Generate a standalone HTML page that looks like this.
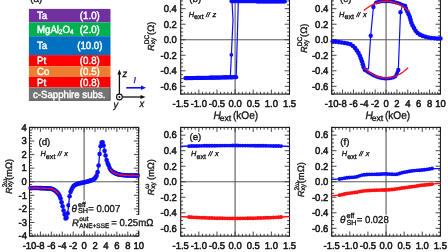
<!DOCTYPE html>
<html><head><meta charset="utf-8"><style>
html,body{margin:0;padding:0;background:#fff;}
svg{display:block;text-rendering:geometricPrecision;}
text{font-family:"Liberation Sans", Arial, sans-serif;fill:#111;stroke:#111;stroke-width:0.32px;}
.w{fill:#fff;stroke:#fff;stroke-width:0.45px;}
.b{fill:#1414ff;stroke:#1414ff;}
.tk{stroke-width:0.5px;}
</style></head><body>
<svg width="448" height="252" viewBox="0 0 448 252"><g fill="#111">
<rect x="28.9" y="8.9" width="81.6" height="13.5" fill="#7030a0"/>
<text transform="matrix(0.93,0,0,1,37,19.15)" font-size="10.4" class="w">Ta</text>
<text transform="matrix(0.93,0,0,1,89.8,19.15)" font-size="10.4" text-anchor="middle" class="w">(1.0)</text>
<rect x="28.9" y="22.4" width="81.6" height="13.8" fill="#00b050"/>
<text transform="matrix(0.93,0,0,1,37,32.8)" font-size="10.4" class="w">MgAl<tspan font-size="6.6" dy="1.1">2</tspan><tspan dy="-1.1">O</tspan><tspan font-size="6.6" dy="1.1">4</tspan></text>
<text transform="matrix(0.93,0,0,1,89.8,32.8)" font-size="10.4" text-anchor="middle" class="w">(2.0)</text>
<rect x="28.9" y="36.2" width="81.6" height="18.9" fill="#0070c0"/>
<text transform="matrix(0.93,0,0,1,37,49.15)" font-size="10.4" class="w">Ta</text>
<text transform="matrix(0.93,0,0,1,89.8,49.15)" font-size="10.4" text-anchor="middle" class="w">(10.0)</text>
<rect x="28.9" y="55.1" width="81.6" height="11.2" fill="#ff0000"/>
<text transform="matrix(0.93,0,0,1,37,64.2)" font-size="10.4" class="w">Pt</text>
<text transform="matrix(0.93,0,0,1,89.8,64.2)" font-size="10.4" text-anchor="middle" class="w">(0.8)</text>
<rect x="28.9" y="66.3" width="81.6" height="10.6" fill="#ed7d31"/>
<text transform="matrix(0.93,0,0,1,37,75.1)" font-size="10.4" class="w">Co</text>
<text transform="matrix(0.93,0,0,1,89.8,75.1)" font-size="10.4" text-anchor="middle" class="w">(0.5)</text>
<rect x="28.9" y="76.9" width="81.6" height="10.6" fill="#ff0000"/>
<text transform="matrix(0.93,0,0,1,37,85.7)" font-size="10.4" class="w">Pt</text>
<text transform="matrix(0.93,0,0,1,89.8,85.7)" font-size="10.4" text-anchor="middle" class="w">(0.8)</text>
<rect x="28.9" y="87.5" width="81.6" height="13.2" fill="#747474"/>
<path d="M28.9 100.3H110.1V87.5" fill="none" stroke="#555" stroke-width="0.8"/>
<text transform="matrix(0.93,0,0,1,69.2,97.5)" font-size="10.4" text-anchor="middle" class="w">c-Sapphire subs.</text>
<text transform="matrix(1.05,0,0,1,30.3,2.2)" font-size="9.3">(a)</text>
<line x1="119.4" y1="97.0" x2="119.4" y2="72.5" stroke="#111" stroke-width="1.3"/>
<path d="M117.4 74.5L119.4 69.5L121.4 74.5Z" fill="#111"/>
<line x1="119.4" y1="97.0" x2="142.5" y2="97.0" stroke="#111" stroke-width="1.3"/>
<path d="M140.5 95.0L145.5 97.0L140.5 99.0Z" fill="#111"/>
<circle cx="119.4" cy="97.0" r="2.9" fill="#fff" stroke="#111" stroke-width="1.1"/>
<circle cx="119.4" cy="97.0" r="1.0" fill="#111"/>
<text transform="matrix(0.92,0,0,1,122.5,77)" font-size="10" font-style="italic">z</text>
<text transform="matrix(0.92,0,0,1,139.5,107)" font-size="10" font-style="italic">x</text>
<text transform="matrix(0.92,0,0,1,113.5,107.5)" font-size="10" font-style="italic">y</text>
<line x1="126.3" y1="87.8" x2="143" y2="87.8" stroke="#0c0cff" stroke-width="1.6"/>
<path d="M141 85.6L146 87.8L141 90Z" fill="#0c0cff"/>
<text transform="matrix(1,0,0,1,133.6,82.6)" font-size="8.6" font-style="italic" class="b">I</text>
<line x1="235.1" y1="-14.6" x2="235.1" y2="94.1" stroke="#5a5a5a" stroke-width="1.1"/>
<line x1="180.7" y1="39.75" x2="289.5" y2="39.75" stroke="#5a5a5a" stroke-width="1.1"/>
<path d="M180.7 94.1v-4.5M180.7 -14.6v4.5M184.33 94.1v-2.3M184.33 -14.6v2.3M187.95 94.1v-2.3M187.95 -14.6v2.3M191.58 94.1v-2.3M191.58 -14.6v2.3M195.21 94.1v-2.3M195.21 -14.6v2.3M198.83 94.1v-4.5M198.83 -14.6v4.5M202.46 94.1v-2.3M202.46 -14.6v2.3M206.09 94.1v-2.3M206.09 -14.6v2.3M209.71 94.1v-2.3M209.71 -14.6v2.3M213.34 94.1v-2.3M213.34 -14.6v2.3M216.97 94.1v-4.5M216.97 -14.6v4.5M220.59 94.1v-2.3M220.59 -14.6v2.3M224.22 94.1v-2.3M224.22 -14.6v2.3M227.85 94.1v-2.3M227.85 -14.6v2.3M231.47 94.1v-2.3M231.47 -14.6v2.3M235.1 94.1v-4.5M235.1 -14.6v4.5M238.73 94.1v-2.3M238.73 -14.6v2.3M242.35 94.1v-2.3M242.35 -14.6v2.3M245.98 94.1v-2.3M245.98 -14.6v2.3M249.61 94.1v-2.3M249.61 -14.6v2.3M253.23 94.1v-4.5M253.23 -14.6v4.5M256.86 94.1v-2.3M256.86 -14.6v2.3M260.49 94.1v-2.3M260.49 -14.6v2.3M264.11 94.1v-2.3M264.11 -14.6v2.3M267.74 94.1v-2.3M267.74 -14.6v2.3M271.37 94.1v-4.5M271.37 -14.6v4.5M274.99 94.1v-2.3M274.99 -14.6v2.3M278.62 94.1v-2.3M278.62 -14.6v2.3M282.25 94.1v-2.3M282.25 -14.6v2.3M285.87 94.1v-2.3M285.87 -14.6v2.3M289.5 94.1v-4.5M289.5 -14.6v4.5M180.7 94.1h2.4M289.5 94.1h-2.4M180.7 90.22h2.4M289.5 90.22h-2.4M180.7 86.34h4.8M289.5 86.34h-4.8M180.7 82.45h2.4M289.5 82.45h-2.4M180.7 78.57h2.4M289.5 78.57h-2.4M180.7 74.69h2.4M289.5 74.69h-2.4M180.7 70.81h4.8M289.5 70.81h-4.8M180.7 66.92h2.4M289.5 66.92h-2.4M180.7 63.04h2.4M289.5 63.04h-2.4M180.7 59.16h2.4M289.5 59.16h-2.4M180.7 55.28h4.8M289.5 55.28h-4.8M180.7 51.4h2.4M289.5 51.4h-2.4M180.7 47.51h2.4M289.5 47.51h-2.4M180.7 43.63h2.4M289.5 43.63h-2.4M180.7 39.75h4.8M289.5 39.75h-4.8M180.7 35.87h2.4M289.5 35.87h-2.4M180.7 31.99h2.4M289.5 31.99h-2.4M180.7 28.1h2.4M289.5 28.1h-2.4M180.7 24.22h4.8M289.5 24.22h-4.8M180.7 20.34h2.4M289.5 20.34h-2.4M180.7 16.46h2.4M289.5 16.46h-2.4M180.7 12.57h2.4M289.5 12.57h-2.4M180.7 8.69h4.8M289.5 8.69h-4.8M180.7 4.81h2.4M289.5 4.81h-2.4M180.7 0.93h2.4M289.5 0.93h-2.4M180.7 -2.95h2.4M289.5 -2.95h-2.4M180.7 -6.84h4.8M289.5 -6.84h-4.8M180.7 -10.72h2.4M289.5 -10.72h-2.4M180.7 -14.6h2.4M289.5 -14.6h-2.4" stroke="#333" stroke-width="0.9" fill="none"/>
<rect x="180.7" y="-14.6" width="108.8" height="108.7" fill="none" stroke="#1a1a1a" stroke-width="1.1"/>
<text transform="matrix(0.96,0,0,1,180.7,106.6)" font-size="9.9" text-anchor="middle" class="tk">-1.5</text>
<text transform="matrix(0.96,0,0,1,198.83,106.6)" font-size="9.9" text-anchor="middle" class="tk">-1.0</text>
<text transform="matrix(0.96,0,0,1,216.97,106.6)" font-size="9.9" text-anchor="middle" class="tk">-0.5</text>
<text transform="matrix(0.96,0,0,1,235.1,106.6)" font-size="9.9" text-anchor="middle" class="tk">0.0</text>
<text transform="matrix(0.96,0,0,1,253.23,106.6)" font-size="9.9" text-anchor="middle" class="tk">0.5</text>
<text transform="matrix(0.96,0,0,1,271.37,106.6)" font-size="9.9" text-anchor="middle" class="tk">1.0</text>
<text transform="matrix(0.96,0,0,1,289.5,106.6)" font-size="9.9" text-anchor="middle" class="tk">1.5</text>
<text transform="matrix(0.96,0,0,1,176.9,89.64)" font-size="9.9" text-anchor="end" class="tk">-0.6</text>
<text transform="matrix(0.96,0,0,1,176.9,74.11)" font-size="9.9" text-anchor="end" class="tk">-0.4</text>
<text transform="matrix(0.96,0,0,1,176.9,58.58)" font-size="9.9" text-anchor="end" class="tk">-0.2</text>
<text transform="matrix(0.96,0,0,1,176.9,43.05)" font-size="9.9" text-anchor="end" class="tk">0.0</text>
<text transform="matrix(0.96,0,0,1,176.9,27.52)" font-size="9.9" text-anchor="end" class="tk">0.2</text>
<text transform="matrix(0.96,0,0,1,176.9,11.99)" font-size="9.9" text-anchor="end" class="tk">0.4</text>
<text transform="matrix(0.96,0,0,1,176.9,-3.54)" font-size="9.9" text-anchor="end" class="tk">0.6</text>
<polyline points="185.41,78.17 186.32,78.16 187.23,78.14 188.13,78.12 189.04,78.1 189.95,78.09 190.85,78.07 191.76,78.05 192.67,78.04 193.57,78.02 194.48,78 195.39,77.99 196.29,77.97 197.2,77.95 198.11,77.93 199.01,77.92 199.92,77.9 200.83,77.88 201.73,77.87 202.64,77.85 203.55,77.83 204.45,77.82 205.36,77.8 206.27,77.78 207.17,77.76 208.08,77.75 208.99,77.73 209.89,77.71 210.8,77.7 211.71,77.68 212.61,77.66 213.52,77.65 214.43,77.63 215.33,77.61 216.24,77.6 217.15,77.58 218.05,77.56 218.96,77.54 219.87,77.53 220.77,77.51 221.68,77.49 222.59,77.48 223.49,77.46 224.4,77.44 225.31,77.43 226.21,77.41 227.12,77.39 228.03,77.37 228.93,77.36 229.84,77.34 230.75,77.32 231.65,77.31 232.56,77.29 233.47,77.27 234.37,77.26 235.28,77.24 236.19,77.22 238.3,1.16 285.15,1.63" fill="none" stroke="#0c0cff" stroke-width="1.2" stroke-linejoin="round" stroke-linecap="round"/>
<polyline points="285.15,1.63 232,1.16 233,20 231.4,54.8 230.3,77.6" fill="none" stroke="#0c0cff" stroke-width="1.2" stroke-linejoin="round" stroke-linecap="round"/>
<circle cx="185.41" cy="78.17" r="2.1" fill="#0c0cff"/>
<circle cx="186.32" cy="78.16" r="2.1" fill="#0c0cff"/>
<circle cx="187.23" cy="78.14" r="2.1" fill="#0c0cff"/>
<circle cx="188.13" cy="78.12" r="2.1" fill="#0c0cff"/>
<circle cx="189.04" cy="78.1" r="2.1" fill="#0c0cff"/>
<circle cx="189.95" cy="78.09" r="2.1" fill="#0c0cff"/>
<circle cx="190.85" cy="78.07" r="2.1" fill="#0c0cff"/>
<circle cx="191.76" cy="78.05" r="2.1" fill="#0c0cff"/>
<circle cx="192.67" cy="78.04" r="2.1" fill="#0c0cff"/>
<circle cx="193.57" cy="78.02" r="2.1" fill="#0c0cff"/>
<circle cx="194.48" cy="78" r="2.1" fill="#0c0cff"/>
<circle cx="195.39" cy="77.99" r="2.1" fill="#0c0cff"/>
<circle cx="196.29" cy="77.97" r="2.1" fill="#0c0cff"/>
<circle cx="197.2" cy="77.95" r="2.1" fill="#0c0cff"/>
<circle cx="198.11" cy="77.93" r="2.1" fill="#0c0cff"/>
<circle cx="199.01" cy="77.92" r="2.1" fill="#0c0cff"/>
<circle cx="199.92" cy="77.9" r="2.1" fill="#0c0cff"/>
<circle cx="200.83" cy="77.88" r="2.1" fill="#0c0cff"/>
<circle cx="201.73" cy="77.87" r="2.1" fill="#0c0cff"/>
<circle cx="202.64" cy="77.85" r="2.1" fill="#0c0cff"/>
<circle cx="203.55" cy="77.83" r="2.1" fill="#0c0cff"/>
<circle cx="204.45" cy="77.82" r="2.1" fill="#0c0cff"/>
<circle cx="205.36" cy="77.8" r="2.1" fill="#0c0cff"/>
<circle cx="206.27" cy="77.78" r="2.1" fill="#0c0cff"/>
<circle cx="207.17" cy="77.76" r="2.1" fill="#0c0cff"/>
<circle cx="208.08" cy="77.75" r="2.1" fill="#0c0cff"/>
<circle cx="208.99" cy="77.73" r="2.1" fill="#0c0cff"/>
<circle cx="209.89" cy="77.71" r="2.1" fill="#0c0cff"/>
<circle cx="210.8" cy="77.7" r="2.1" fill="#0c0cff"/>
<circle cx="211.71" cy="77.68" r="2.1" fill="#0c0cff"/>
<circle cx="212.61" cy="77.66" r="2.1" fill="#0c0cff"/>
<circle cx="213.52" cy="77.65" r="2.1" fill="#0c0cff"/>
<circle cx="214.43" cy="77.63" r="2.1" fill="#0c0cff"/>
<circle cx="215.33" cy="77.61" r="2.1" fill="#0c0cff"/>
<circle cx="216.24" cy="77.6" r="2.1" fill="#0c0cff"/>
<circle cx="217.15" cy="77.58" r="2.1" fill="#0c0cff"/>
<circle cx="218.05" cy="77.56" r="2.1" fill="#0c0cff"/>
<circle cx="218.96" cy="77.54" r="2.1" fill="#0c0cff"/>
<circle cx="219.87" cy="77.53" r="2.1" fill="#0c0cff"/>
<circle cx="220.77" cy="77.51" r="2.1" fill="#0c0cff"/>
<circle cx="221.68" cy="77.49" r="2.1" fill="#0c0cff"/>
<circle cx="222.59" cy="77.48" r="2.1" fill="#0c0cff"/>
<circle cx="223.49" cy="77.46" r="2.1" fill="#0c0cff"/>
<circle cx="224.4" cy="77.44" r="2.1" fill="#0c0cff"/>
<circle cx="225.31" cy="77.43" r="2.1" fill="#0c0cff"/>
<circle cx="226.21" cy="77.41" r="2.1" fill="#0c0cff"/>
<circle cx="227.12" cy="77.39" r="2.1" fill="#0c0cff"/>
<circle cx="228.03" cy="77.37" r="2.1" fill="#0c0cff"/>
<circle cx="228.93" cy="77.36" r="2.1" fill="#0c0cff"/>
<circle cx="229.84" cy="77.34" r="2.1" fill="#0c0cff"/>
<circle cx="230.75" cy="77.32" r="2.1" fill="#0c0cff"/>
<circle cx="231.65" cy="77.31" r="2.1" fill="#0c0cff"/>
<circle cx="232.56" cy="77.29" r="2.1" fill="#0c0cff"/>
<circle cx="233.47" cy="77.27" r="2.1" fill="#0c0cff"/>
<circle cx="234.37" cy="77.26" r="2.1" fill="#0c0cff"/>
<circle cx="235.28" cy="77.24" r="2.1" fill="#0c0cff"/>
<circle cx="236.19" cy="77.22" r="2.1" fill="#0c0cff"/>
<circle cx="231.47" cy="1.16" r="2.0" fill="#0c0cff"/>
<circle cx="232.38" cy="1.17" r="2.0" fill="#0c0cff"/>
<circle cx="233.29" cy="1.18" r="2.0" fill="#0c0cff"/>
<circle cx="234.19" cy="1.18" r="2.0" fill="#0c0cff"/>
<circle cx="235.1" cy="1.19" r="2.0" fill="#0c0cff"/>
<circle cx="236.01" cy="1.2" r="2.0" fill="#0c0cff"/>
<circle cx="236.91" cy="1.21" r="2.0" fill="#0c0cff"/>
<circle cx="237.82" cy="1.22" r="2.0" fill="#0c0cff"/>
<circle cx="238.73" cy="1.22" r="2.0" fill="#0c0cff"/>
<circle cx="239.63" cy="1.23" r="2.0" fill="#0c0cff"/>
<circle cx="240.54" cy="1.24" r="2.0" fill="#0c0cff"/>
<circle cx="241.45" cy="1.25" r="2.0" fill="#0c0cff"/>
<circle cx="242.35" cy="1.25" r="2.0" fill="#0c0cff"/>
<circle cx="243.26" cy="1.26" r="2.0" fill="#0c0cff"/>
<circle cx="244.17" cy="1.27" r="2.0" fill="#0c0cff"/>
<circle cx="245.07" cy="1.28" r="2.0" fill="#0c0cff"/>
<circle cx="245.98" cy="1.29" r="2.0" fill="#0c0cff"/>
<circle cx="246.89" cy="1.29" r="2.0" fill="#0c0cff"/>
<circle cx="247.79" cy="1.3" r="2.0" fill="#0c0cff"/>
<circle cx="248.7" cy="1.31" r="2.0" fill="#0c0cff"/>
<circle cx="249.61" cy="1.32" r="2.0" fill="#0c0cff"/>
<circle cx="250.51" cy="1.32" r="2.0" fill="#0c0cff"/>
<circle cx="251.42" cy="1.33" r="2.0" fill="#0c0cff"/>
<circle cx="252.33" cy="1.34" r="2.0" fill="#0c0cff"/>
<circle cx="253.23" cy="1.35" r="2.0" fill="#0c0cff"/>
<circle cx="254.14" cy="1.36" r="2.0" fill="#0c0cff"/>
<circle cx="255.05" cy="1.36" r="2.0" fill="#0c0cff"/>
<circle cx="255.95" cy="1.37" r="2.0" fill="#0c0cff"/>
<circle cx="256.86" cy="1.38" r="2.0" fill="#0c0cff"/>
<circle cx="257.77" cy="1.39" r="2.0" fill="#0c0cff"/>
<circle cx="258.67" cy="1.39" r="2.0" fill="#0c0cff"/>
<circle cx="259.58" cy="1.4" r="2.0" fill="#0c0cff"/>
<circle cx="260.49" cy="1.41" r="2.0" fill="#0c0cff"/>
<circle cx="261.39" cy="1.42" r="2.0" fill="#0c0cff"/>
<circle cx="262.3" cy="1.43" r="2.0" fill="#0c0cff"/>
<circle cx="263.21" cy="1.43" r="2.0" fill="#0c0cff"/>
<circle cx="264.11" cy="1.44" r="2.0" fill="#0c0cff"/>
<circle cx="265.02" cy="1.45" r="2.0" fill="#0c0cff"/>
<circle cx="265.93" cy="1.46" r="2.0" fill="#0c0cff"/>
<circle cx="266.83" cy="1.46" r="2.0" fill="#0c0cff"/>
<circle cx="267.74" cy="1.47" r="2.0" fill="#0c0cff"/>
<circle cx="268.65" cy="1.48" r="2.0" fill="#0c0cff"/>
<circle cx="269.55" cy="1.49" r="2.0" fill="#0c0cff"/>
<circle cx="270.46" cy="1.5" r="2.0" fill="#0c0cff"/>
<circle cx="271.37" cy="1.5" r="2.0" fill="#0c0cff"/>
<circle cx="272.27" cy="1.51" r="2.0" fill="#0c0cff"/>
<circle cx="273.18" cy="1.52" r="2.0" fill="#0c0cff"/>
<circle cx="274.09" cy="1.53" r="2.0" fill="#0c0cff"/>
<circle cx="274.99" cy="1.53" r="2.0" fill="#0c0cff"/>
<circle cx="275.9" cy="1.54" r="2.0" fill="#0c0cff"/>
<circle cx="276.81" cy="1.55" r="2.0" fill="#0c0cff"/>
<circle cx="277.71" cy="1.56" r="2.0" fill="#0c0cff"/>
<circle cx="278.62" cy="1.57" r="2.0" fill="#0c0cff"/>
<circle cx="279.53" cy="1.57" r="2.0" fill="#0c0cff"/>
<circle cx="280.43" cy="1.58" r="2.0" fill="#0c0cff"/>
<circle cx="281.34" cy="1.59" r="2.0" fill="#0c0cff"/>
<circle cx="282.25" cy="1.6" r="2.0" fill="#0c0cff"/>
<circle cx="283.15" cy="1.6" r="2.0" fill="#0c0cff"/>
<circle cx="284.06" cy="1.61" r="2.0" fill="#0c0cff"/>
<circle cx="284.97" cy="1.62" r="2.0" fill="#0c0cff"/>
<circle cx="231.4" cy="54.8" r="1.9" fill="#0c0cff"/>
<line x1="386.05" y1="-14.6" x2="386.05" y2="94.1" stroke="#5a5a5a" stroke-width="1.1"/>
<line x1="331.7" y1="39.75" x2="440.4" y2="39.75" stroke="#5a5a5a" stroke-width="1.1"/>
<path d="M331.7 94.1v-4.5M331.7 -14.6v4.5M334.42 94.1v-2.3M334.42 -14.6v2.3M337.13 94.1v-2.3M337.13 -14.6v2.3M339.85 94.1v-2.3M339.85 -14.6v2.3M342.57 94.1v-4.5M342.57 -14.6v4.5M345.29 94.1v-2.3M345.29 -14.6v2.3M348 94.1v-2.3M348 -14.6v2.3M350.72 94.1v-2.3M350.72 -14.6v2.3M353.44 94.1v-4.5M353.44 -14.6v4.5M356.16 94.1v-2.3M356.16 -14.6v2.3M358.88 94.1v-2.3M358.88 -14.6v2.3M361.59 94.1v-2.3M361.59 -14.6v2.3M364.31 94.1v-4.5M364.31 -14.6v4.5M367.03 94.1v-2.3M367.03 -14.6v2.3M369.75 94.1v-2.3M369.75 -14.6v2.3M372.46 94.1v-2.3M372.46 -14.6v2.3M375.18 94.1v-4.5M375.18 -14.6v4.5M377.9 94.1v-2.3M377.9 -14.6v2.3M380.62 94.1v-2.3M380.62 -14.6v2.3M383.33 94.1v-2.3M383.33 -14.6v2.3M386.05 94.1v-4.5M386.05 -14.6v4.5M388.77 94.1v-2.3M388.77 -14.6v2.3M391.49 94.1v-2.3M391.49 -14.6v2.3M394.2 94.1v-2.3M394.2 -14.6v2.3M396.92 94.1v-4.5M396.92 -14.6v4.5M399.64 94.1v-2.3M399.64 -14.6v2.3M402.36 94.1v-2.3M402.36 -14.6v2.3M405.07 94.1v-2.3M405.07 -14.6v2.3M407.79 94.1v-4.5M407.79 -14.6v4.5M410.51 94.1v-2.3M410.51 -14.6v2.3M413.22 94.1v-2.3M413.22 -14.6v2.3M415.94 94.1v-2.3M415.94 -14.6v2.3M418.66 94.1v-4.5M418.66 -14.6v4.5M421.38 94.1v-2.3M421.38 -14.6v2.3M424.09 94.1v-2.3M424.09 -14.6v2.3M426.81 94.1v-2.3M426.81 -14.6v2.3M429.53 94.1v-4.5M429.53 -14.6v4.5M432.25 94.1v-2.3M432.25 -14.6v2.3M434.96 94.1v-2.3M434.96 -14.6v2.3M437.68 94.1v-2.3M437.68 -14.6v2.3M440.4 94.1v-4.5M440.4 -14.6v4.5M331.7 94.1h2.4M440.4 94.1h-2.4M331.7 90.22h2.4M440.4 90.22h-2.4M331.7 86.34h4.8M440.4 86.34h-4.8M331.7 82.45h2.4M440.4 82.45h-2.4M331.7 78.57h2.4M440.4 78.57h-2.4M331.7 74.69h2.4M440.4 74.69h-2.4M331.7 70.81h4.8M440.4 70.81h-4.8M331.7 66.92h2.4M440.4 66.92h-2.4M331.7 63.04h2.4M440.4 63.04h-2.4M331.7 59.16h2.4M440.4 59.16h-2.4M331.7 55.28h4.8M440.4 55.28h-4.8M331.7 51.4h2.4M440.4 51.4h-2.4M331.7 47.51h2.4M440.4 47.51h-2.4M331.7 43.63h2.4M440.4 43.63h-2.4M331.7 39.75h4.8M440.4 39.75h-4.8M331.7 35.87h2.4M440.4 35.87h-2.4M331.7 31.99h2.4M440.4 31.99h-2.4M331.7 28.1h2.4M440.4 28.1h-2.4M331.7 24.22h4.8M440.4 24.22h-4.8M331.7 20.34h2.4M440.4 20.34h-2.4M331.7 16.46h2.4M440.4 16.46h-2.4M331.7 12.57h2.4M440.4 12.57h-2.4M331.7 8.69h4.8M440.4 8.69h-4.8M331.7 4.81h2.4M440.4 4.81h-2.4M331.7 0.93h2.4M440.4 0.93h-2.4M331.7 -2.95h2.4M440.4 -2.95h-2.4M331.7 -6.84h4.8M440.4 -6.84h-4.8M331.7 -10.72h2.4M440.4 -10.72h-2.4M331.7 -14.6h2.4M440.4 -14.6h-2.4" stroke="#333" stroke-width="0.9" fill="none"/>
<rect x="331.7" y="-14.6" width="108.7" height="108.7" fill="none" stroke="#1a1a1a" stroke-width="1.1"/>
<text transform="matrix(0.96,0,0,1,331.7,106.6)" font-size="9.9" text-anchor="middle" class="tk">-10</text>
<text transform="matrix(0.96,0,0,1,342.57,106.6)" font-size="9.9" text-anchor="middle" class="tk">-8</text>
<text transform="matrix(0.96,0,0,1,353.44,106.6)" font-size="9.9" text-anchor="middle" class="tk">-6</text>
<text transform="matrix(0.96,0,0,1,364.31,106.6)" font-size="9.9" text-anchor="middle" class="tk">-4</text>
<text transform="matrix(0.96,0,0,1,375.18,106.6)" font-size="9.9" text-anchor="middle" class="tk">-2</text>
<text transform="matrix(0.96,0,0,1,386.05,106.6)" font-size="9.9" text-anchor="middle" class="tk">0</text>
<text transform="matrix(0.96,0,0,1,396.92,106.6)" font-size="9.9" text-anchor="middle" class="tk">2</text>
<text transform="matrix(0.96,0,0,1,407.79,106.6)" font-size="9.9" text-anchor="middle" class="tk">4</text>
<text transform="matrix(0.96,0,0,1,418.66,106.6)" font-size="9.9" text-anchor="middle" class="tk">6</text>
<text transform="matrix(0.96,0,0,1,429.53,106.6)" font-size="9.9" text-anchor="middle" class="tk">8</text>
<text transform="matrix(0.96,0,0,1,440.4,106.6)" font-size="9.9" text-anchor="middle" class="tk">10</text>
<text transform="matrix(0.96,0,0,1,328.3,89.64)" font-size="9.9" text-anchor="end" class="tk">-0.6</text>
<text transform="matrix(0.96,0,0,1,328.3,74.11)" font-size="9.9" text-anchor="end" class="tk">-0.4</text>
<text transform="matrix(0.96,0,0,1,328.3,58.58)" font-size="9.9" text-anchor="end" class="tk">-0.2</text>
<text transform="matrix(0.96,0,0,1,328.3,43.05)" font-size="9.9" text-anchor="end" class="tk">0.0</text>
<text transform="matrix(0.96,0,0,1,328.3,27.52)" font-size="9.9" text-anchor="end" class="tk">0.2</text>
<text transform="matrix(0.96,0,0,1,328.3,11.99)" font-size="9.9" text-anchor="end" class="tk">0.4</text>
<text transform="matrix(0.96,0,0,1,328.3,-3.54)" font-size="9.9" text-anchor="end" class="tk">0.6</text>
<polyline points="440.4,38.5 439.04,38.49 437.68,38.45 436.32,38.42 434.96,38.34 433.61,38.19 432.25,38.04 430.89,37.88 429.53,37.63 428.17,37.39 426.81,37.14 425.45,36.74 424.09,36.32 422.74,35.9 421.38,35.34 420.02,34.66 418.66,33.98 417.3,32.68 415.94,31.29 414.58,28.92 413.22,26.84 411.87,24.01 410.51,19.68 409.15,15.33 407.79,12.48 406.43,9.76 405.07,6.11 403.71,5.43 402.36,4.8 401.81,4.56 400.45,4 399.09,3.49 397.74,3.03 396.38,2.62 395.02,2.26 393.66,1.95 392.3,1.7 390.94,1.49 389.58,1.33 388.22,1.23 386.87,1.17 385.51,1.17 384.15,1.21 382.79,1.31 381.43,1.45 380.07,1.65 378.71,1.9 377.35,2.2 376,2.54 374.64,2.94 373.4,7 370.7,35.7 368.5,68.8 364.31,68.62 362.95,64.8 361.59,60.28 360.23,56.62 358.88,53.75 357.52,51.49 356.16,49.56 354.8,47.8 353.44,46.44 352.08,45.39 350.72,44.48 349.36,43.87 348,43.6 346.65,43.34 345.29,43.13 343.93,42.92 342.57,42.7 341.21,42.49 339.85,42.28 338.49,42.07 337.13,41.87 335.78,41.67 334.42,41.46 333.06,41.26 331.7,41.1" fill="none" stroke="#0c0cff" stroke-width="1.2" stroke-linejoin="round" stroke-linecap="round"/>
<polyline points="331.7,41.1 332.79,41.22 333.87,41.38 334.96,41.54 336.05,41.71 337.13,41.87 338.22,42.03 339.31,42.2 340.4,42.36 341.48,42.53 342.57,42.7 343.66,42.87 344.74,43.05 345.83,43.22 346.92,43.39 348,43.6 349.09,43.82 350.18,44.12 351.27,44.84 352.35,45.57 353.44,46.44 354.53,47.53 355.61,48.83 356.7,50.3 357.79,51.91 358.87,53.75 359.96,55.92 361.05,58.8 362.14,61.91 363.22,65.89 364.31,68.62 365.4,70.16 366.76,71.23 368.11,72.23 369.47,73.15 370.83,74.01 372.19,74.78 373.55,75.49 374.91,76.12 376.27,76.68 377.63,77.17 378.98,77.59 380.34,77.93 381.7,78.2 383.06,78.4 384.42,78.52 385.78,78.57 387.14,78.55 388.5,78.45 389.85,78.29 391.21,78.05 392.57,77.73 393.93,77.35 395.29,76.44 396.65,74.07 398.01,70.23 398.3,70 400.5,12.2 402.2,6.6 403.99,5.56 405.07,6.11 406.16,9.22 407.25,11.39 408.33,13.61 409.42,16.07 410.51,19.68 411.59,23.28 412.68,25.72 413.77,27.65 414.86,29.4 415.94,31.29 417.03,32.4 418.12,33.51 419.2,34.25 420.29,34.8 421.38,35.34 422.46,35.81 423.55,36.15 424.64,36.49 425.73,36.83 426.81,37.14 427.9,37.34 428.99,37.53 430.07,37.73 431.16,37.92 432.25,38.04 433.33,38.16 434.42,38.28 435.51,38.4 436.6,38.43 437.68,38.45 438.77,38.48 439.86,38.5" fill="none" stroke="#0c0cff" stroke-width="1.2" stroke-linejoin="round" stroke-linecap="round"/>
<circle cx="440.4" cy="38.5" r="2.3" fill="#0c0cff"/>
<circle cx="437.4" cy="38.45" r="2.3" fill="#0c0cff"/>
<circle cx="434.41" cy="38.28" r="2.3" fill="#0c0cff"/>
<circle cx="431.43" cy="37.95" r="2.3" fill="#0c0cff"/>
<circle cx="428.47" cy="37.44" r="2.3" fill="#0c0cff"/>
<circle cx="425.55" cy="36.77" r="2.3" fill="#0c0cff"/>
<circle cx="422.69" cy="35.88" r="2.3" fill="#0c0cff"/>
<circle cx="419.97" cy="34.63" r="2.3" fill="#0c0cff"/>
<circle cx="417.55" cy="32.93" r="2.3" fill="#0c0cff"/>
<circle cx="415.58" cy="30.68" r="2.3" fill="#0c0cff"/>
<circle cx="414.06" cy="28.09" r="2.3" fill="#0c0cff"/>
<circle cx="412.57" cy="25.5" r="2.3" fill="#0c0cff"/>
<circle cx="411.4" cy="22.74" r="2.3" fill="#0c0cff"/>
<circle cx="410.55" cy="19.87" r="2.3" fill="#0c0cff"/>
<circle cx="409.76" cy="16.98" r="2.3" fill="#0c0cff"/>
<circle cx="408.62" cy="14.21" r="2.3" fill="#0c0cff"/>
<circle cx="407.31" cy="11.51" r="2.3" fill="#0c0cff"/>
<circle cx="405.96" cy="8.83" r="2.3" fill="#0c0cff"/>
<circle cx="405.1" cy="6.12" r="2.3" fill="#0c0cff"/>
<circle cx="403.99" cy="5.56" r="2.0" fill="#0c0cff"/>
<circle cx="401.99" cy="4.63" r="2.0" fill="#0c0cff"/>
<circle cx="399.95" cy="3.8" r="2.0" fill="#0c0cff"/>
<circle cx="397.88" cy="3.07" r="2.0" fill="#0c0cff"/>
<circle cx="395.77" cy="2.45" r="2.0" fill="#0c0cff"/>
<circle cx="393.63" cy="1.95" r="2.0" fill="#0c0cff"/>
<circle cx="391.46" cy="1.56" r="2.0" fill="#0c0cff"/>
<circle cx="389.28" cy="1.3" r="2.0" fill="#0c0cff"/>
<circle cx="387.08" cy="1.18" r="2.0" fill="#0c0cff"/>
<circle cx="384.88" cy="1.18" r="2.0" fill="#0c0cff"/>
<circle cx="382.68" cy="1.32" r="2.0" fill="#0c0cff"/>
<circle cx="380.5" cy="1.58" r="2.0" fill="#0c0cff"/>
<circle cx="378.34" cy="1.97" r="2.0" fill="#0c0cff"/>
<circle cx="376.2" cy="2.49" r="2.0" fill="#0c0cff"/>
<circle cx="364.85" cy="69.71" r="2.3" fill="#0c0cff"/>
<circle cx="363.54" cy="67.08" r="2.3" fill="#0c0cff"/>
<circle cx="362.79" cy="64.18" r="2.3" fill="#0c0cff"/>
<circle cx="361.94" cy="61.31" r="2.3" fill="#0c0cff"/>
<circle cx="360.93" cy="58.48" r="2.3" fill="#0c0cff"/>
<circle cx="359.84" cy="55.68" r="2.3" fill="#0c0cff"/>
<circle cx="358.5" cy="53" r="2.3" fill="#0c0cff"/>
<circle cx="356.85" cy="50.5" r="2.3" fill="#0c0cff"/>
<circle cx="355.06" cy="48.09" r="2.3" fill="#0c0cff"/>
<circle cx="352.95" cy="45.96" r="2.3" fill="#0c0cff"/>
<circle cx="350.45" cy="44.3" r="2.3" fill="#0c0cff"/>
<circle cx="347.59" cy="43.52" r="2.3" fill="#0c0cff"/>
<circle cx="344.63" cy="43.03" r="2.3" fill="#0c0cff"/>
<circle cx="341.66" cy="42.56" r="2.3" fill="#0c0cff"/>
<circle cx="338.7" cy="42.1" r="2.3" fill="#0c0cff"/>
<circle cx="335.73" cy="41.66" r="2.3" fill="#0c0cff"/>
<circle cx="332.76" cy="41.21" r="2.3" fill="#0c0cff"/>
<circle cx="364.85" cy="69.71" r="1.9" fill="#0c0cff"/>
<circle cx="366.57" cy="71.09" r="1.9" fill="#0c0cff"/>
<circle cx="368.34" cy="72.39" r="1.9" fill="#0c0cff"/>
<circle cx="370.18" cy="73.61" r="1.9" fill="#0c0cff"/>
<circle cx="372.07" cy="74.72" r="1.9" fill="#0c0cff"/>
<circle cx="374.03" cy="75.72" r="1.9" fill="#0c0cff"/>
<circle cx="376.05" cy="76.6" r="1.9" fill="#0c0cff"/>
<circle cx="378.12" cy="77.33" r="1.9" fill="#0c0cff"/>
<circle cx="380.25" cy="77.91" r="1.9" fill="#0c0cff"/>
<circle cx="382.41" cy="78.31" r="1.9" fill="#0c0cff"/>
<circle cx="384.6" cy="78.53" r="1.9" fill="#0c0cff"/>
<circle cx="386.8" cy="78.56" r="1.9" fill="#0c0cff"/>
<circle cx="388.99" cy="78.4" r="1.9" fill="#0c0cff"/>
<circle cx="391.16" cy="78.06" r="1.9" fill="#0c0cff"/>
<circle cx="393.3" cy="77.54" r="1.9" fill="#0c0cff"/>
<circle cx="395.2" cy="76.53" r="1.9" fill="#0c0cff"/>
<circle cx="396.37" cy="74.67" r="1.9" fill="#0c0cff"/>
<circle cx="397.22" cy="72.64" r="1.9" fill="#0c0cff"/>
<circle cx="373.4" cy="7" r="2.2" fill="#0c0cff"/>
<circle cx="370.7" cy="35.7" r="2.2" fill="#0c0cff"/>
<circle cx="398.3" cy="70" r="2.2" fill="#0c0cff"/>
<circle cx="400.5" cy="12.2" r="2.2" fill="#0c0cff"/>
<polyline points="364.31,10.18 365.4,9.31 366.48,8.48 367.57,7.7 368.66,6.96 369.75,6.27 370.83,5.62 371.92,5.02 373.01,4.46 374.09,3.94 375.18,3.48 376.27,3.05 377.35,2.67 378.44,2.33 379.53,2.04 380.62,1.8 381.7,1.6 382.79,1.44 383.88,1.33 384.96,1.26 386.05,1.24 387.14,1.26 388.22,1.33 389.31,1.44 390.4,1.6 391.49,1.8 392.57,2.04 393.66,2.33 394.75,2.67 395.83,3.05 396.92,3.48 398.01,3.94 399.09,4.46 400.18,5.02 401.27,5.62 402.36,6.27 403.44,6.96 404.53,7.7 405.62,8.48 406.7,9.31 407.79,10.18 408.88,11.1" fill="none" stroke="#ff1010" stroke-width="1.3" stroke-linejoin="round" stroke-linecap="round"/>
<polyline points="364.31,68.09 365.4,69.06 366.48,69.98 367.57,70.85 368.66,71.67 369.75,72.44 370.83,73.16 371.92,73.83 373.01,74.45 374.09,75.02 375.18,75.54 376.27,76.02 377.35,76.44 378.44,76.81 379.53,77.13 380.62,77.41 381.7,77.63 382.79,77.8 383.88,77.93 384.96,78 386.05,78.03 387.14,78 388.22,77.93 389.31,77.8 390.4,77.63 391.49,77.41 392.57,77.13 393.66,76.81 394.75,76.44 395.83,76.02 396.92,75.54 398.01,75.02 399.09,74.45 400.18,73.83 401.27,73.16 402.36,72.44 403.44,71.67 404.53,70.85 405.62,69.98 406.7,69.06 407.79,68.09" fill="none" stroke="#ff1010" stroke-width="1.3" stroke-linejoin="round" stroke-linecap="round"/>
<line x1="84.1" y1="127.4" x2="84.1" y2="236.1" stroke="#5a5a5a" stroke-width="1.1"/>
<line x1="29.5" y1="181.75" x2="138.7" y2="181.75" stroke="#5a5a5a" stroke-width="1.1"/>
<path d="M29.5 236.1v-4.5M29.5 127.4v4.5M32.23 236.1v-2.3M32.23 127.4v2.3M34.96 236.1v-2.3M34.96 127.4v2.3M37.69 236.1v-2.3M37.69 127.4v2.3M40.42 236.1v-4.5M40.42 127.4v4.5M43.15 236.1v-2.3M43.15 127.4v2.3M45.88 236.1v-2.3M45.88 127.4v2.3M48.61 236.1v-2.3M48.61 127.4v2.3M51.34 236.1v-4.5M51.34 127.4v4.5M54.07 236.1v-2.3M54.07 127.4v2.3M56.8 236.1v-2.3M56.8 127.4v2.3M59.53 236.1v-2.3M59.53 127.4v2.3M62.26 236.1v-4.5M62.26 127.4v4.5M64.99 236.1v-2.3M64.99 127.4v2.3M67.72 236.1v-2.3M67.72 127.4v2.3M70.45 236.1v-2.3M70.45 127.4v2.3M73.18 236.1v-4.5M73.18 127.4v4.5M75.91 236.1v-2.3M75.91 127.4v2.3M78.64 236.1v-2.3M78.64 127.4v2.3M81.37 236.1v-2.3M81.37 127.4v2.3M84.1 236.1v-4.5M84.1 127.4v4.5M86.83 236.1v-2.3M86.83 127.4v2.3M89.56 236.1v-2.3M89.56 127.4v2.3M92.29 236.1v-2.3M92.29 127.4v2.3M95.02 236.1v-4.5M95.02 127.4v4.5M97.75 236.1v-2.3M97.75 127.4v2.3M100.48 236.1v-2.3M100.48 127.4v2.3M103.21 236.1v-2.3M103.21 127.4v2.3M105.94 236.1v-4.5M105.94 127.4v4.5M108.67 236.1v-2.3M108.67 127.4v2.3M111.4 236.1v-2.3M111.4 127.4v2.3M114.13 236.1v-2.3M114.13 127.4v2.3M116.86 236.1v-4.5M116.86 127.4v4.5M119.59 236.1v-2.3M119.59 127.4v2.3M122.32 236.1v-2.3M122.32 127.4v2.3M125.05 236.1v-2.3M125.05 127.4v2.3M127.78 236.1v-4.5M127.78 127.4v4.5M130.51 236.1v-2.3M130.51 127.4v2.3M133.24 236.1v-2.3M133.24 127.4v2.3M135.97 236.1v-2.3M135.97 127.4v2.3M138.7 236.1v-4.5M138.7 127.4v4.5M29.5 236.1h4.8M138.7 236.1h-4.8M29.5 233.38h2.4M138.7 233.38h-2.4M29.5 230.66h2.4M138.7 230.66h-2.4M29.5 227.95h2.4M138.7 227.95h-2.4M29.5 225.23h2.4M138.7 225.23h-2.4M29.5 222.51h4.8M138.7 222.51h-4.8M29.5 219.79h2.4M138.7 219.79h-2.4M29.5 217.08h2.4M138.7 217.08h-2.4M29.5 214.36h2.4M138.7 214.36h-2.4M29.5 211.64h2.4M138.7 211.64h-2.4M29.5 208.93h4.8M138.7 208.93h-4.8M29.5 206.21h2.4M138.7 206.21h-2.4M29.5 203.49h2.4M138.7 203.49h-2.4M29.5 200.77h2.4M138.7 200.77h-2.4M29.5 198.06h2.4M138.7 198.06h-2.4M29.5 195.34h4.8M138.7 195.34h-4.8M29.5 192.62h2.4M138.7 192.62h-2.4M29.5 189.9h2.4M138.7 189.9h-2.4M29.5 187.19h2.4M138.7 187.19h-2.4M29.5 184.47h2.4M138.7 184.47h-2.4M29.5 181.75h4.8M138.7 181.75h-4.8M29.5 179.03h2.4M138.7 179.03h-2.4M29.5 176.31h2.4M138.7 176.31h-2.4M29.5 173.6h2.4M138.7 173.6h-2.4M29.5 170.88h2.4M138.7 170.88h-2.4M29.5 168.16h4.8M138.7 168.16h-4.8M29.5 165.44h2.4M138.7 165.44h-2.4M29.5 162.73h2.4M138.7 162.73h-2.4M29.5 160.01h2.4M138.7 160.01h-2.4M29.5 157.29h2.4M138.7 157.29h-2.4M29.5 154.57h4.8M138.7 154.57h-4.8M29.5 151.86h2.4M138.7 151.86h-2.4M29.5 149.14h2.4M138.7 149.14h-2.4M29.5 146.42h2.4M138.7 146.42h-2.4M29.5 143.7h2.4M138.7 143.7h-2.4M29.5 140.99h4.8M138.7 140.99h-4.8M29.5 138.27h2.4M138.7 138.27h-2.4M29.5 135.55h2.4M138.7 135.55h-2.4M29.5 132.83h2.4M138.7 132.83h-2.4M29.5 130.12h2.4M138.7 130.12h-2.4M29.5 127.4h4.8M138.7 127.4h-4.8" stroke="#333" stroke-width="0.9" fill="none"/>
<rect x="29.5" y="127.4" width="109.2" height="108.7" fill="none" stroke="#1a1a1a" stroke-width="1.1"/>
<text transform="matrix(0.96,0,0,1,29.5,248.8)" font-size="9.9" text-anchor="middle" class="tk">-10</text>
<text transform="matrix(0.96,0,0,1,40.42,248.8)" font-size="9.9" text-anchor="middle" class="tk">-8</text>
<text transform="matrix(0.96,0,0,1,51.34,248.8)" font-size="9.9" text-anchor="middle" class="tk">-6</text>
<text transform="matrix(0.96,0,0,1,62.26,248.8)" font-size="9.9" text-anchor="middle" class="tk">-4</text>
<text transform="matrix(0.96,0,0,1,73.18,248.8)" font-size="9.9" text-anchor="middle" class="tk">-2</text>
<text transform="matrix(0.96,0,0,1,84.1,248.8)" font-size="9.9" text-anchor="middle" class="tk">0</text>
<text transform="matrix(0.96,0,0,1,95.02,248.8)" font-size="9.9" text-anchor="middle" class="tk">2</text>
<text transform="matrix(0.96,0,0,1,105.94,248.8)" font-size="9.9" text-anchor="middle" class="tk">4</text>
<text transform="matrix(0.96,0,0,1,116.86,248.8)" font-size="9.9" text-anchor="middle" class="tk">6</text>
<text transform="matrix(0.96,0,0,1,127.78,248.8)" font-size="9.9" text-anchor="middle" class="tk">8</text>
<text transform="matrix(0.96,0,0,1,138.7,248.8)" font-size="9.9" text-anchor="middle" class="tk">10</text>
<text transform="matrix(0.96,0,0,1,26.9,239.4)" font-size="9.9" text-anchor="end" class="tk">-4</text>
<text transform="matrix(0.96,0,0,1,26.9,225.81)" font-size="9.9" text-anchor="end" class="tk">-3</text>
<text transform="matrix(0.96,0,0,1,26.9,212.23)" font-size="9.9" text-anchor="end" class="tk">-2</text>
<text transform="matrix(0.96,0,0,1,26.9,198.64)" font-size="9.9" text-anchor="end" class="tk">-1</text>
<text transform="matrix(0.96,0,0,1,26.9,185.05)" font-size="9.9" text-anchor="end" class="tk">0</text>
<text transform="matrix(0.96,0,0,1,26.9,171.46)" font-size="9.9" text-anchor="end" class="tk">1</text>
<text transform="matrix(0.96,0,0,1,26.9,157.88)" font-size="9.9" text-anchor="end" class="tk">2</text>
<text transform="matrix(0.96,0,0,1,26.9,144.29)" font-size="9.9" text-anchor="end" class="tk">3</text>
<text transform="matrix(0.96,0,0,1,26.9,130.7)" font-size="9.9" text-anchor="end" class="tk">4</text>
<line x1="235.1" y1="127.4" x2="235.1" y2="236.1" stroke="#5a5a5a" stroke-width="1.1"/>
<line x1="180.7" y1="181.75" x2="289.5" y2="181.75" stroke="#5a5a5a" stroke-width="1.1"/>
<path d="M180.7 236.1v-4.5M180.7 127.4v4.5M184.33 236.1v-2.3M184.33 127.4v2.3M187.95 236.1v-2.3M187.95 127.4v2.3M191.58 236.1v-2.3M191.58 127.4v2.3M195.21 236.1v-2.3M195.21 127.4v2.3M198.83 236.1v-4.5M198.83 127.4v4.5M202.46 236.1v-2.3M202.46 127.4v2.3M206.09 236.1v-2.3M206.09 127.4v2.3M209.71 236.1v-2.3M209.71 127.4v2.3M213.34 236.1v-2.3M213.34 127.4v2.3M216.97 236.1v-4.5M216.97 127.4v4.5M220.59 236.1v-2.3M220.59 127.4v2.3M224.22 236.1v-2.3M224.22 127.4v2.3M227.85 236.1v-2.3M227.85 127.4v2.3M231.47 236.1v-2.3M231.47 127.4v2.3M235.1 236.1v-4.5M235.1 127.4v4.5M238.73 236.1v-2.3M238.73 127.4v2.3M242.35 236.1v-2.3M242.35 127.4v2.3M245.98 236.1v-2.3M245.98 127.4v2.3M249.61 236.1v-2.3M249.61 127.4v2.3M253.23 236.1v-4.5M253.23 127.4v4.5M256.86 236.1v-2.3M256.86 127.4v2.3M260.49 236.1v-2.3M260.49 127.4v2.3M264.11 236.1v-2.3M264.11 127.4v2.3M267.74 236.1v-2.3M267.74 127.4v2.3M271.37 236.1v-4.5M271.37 127.4v4.5M274.99 236.1v-2.3M274.99 127.4v2.3M278.62 236.1v-2.3M278.62 127.4v2.3M282.25 236.1v-2.3M282.25 127.4v2.3M285.87 236.1v-2.3M285.87 127.4v2.3M289.5 236.1v-4.5M289.5 127.4v4.5M180.7 236.1h2.4M289.5 236.1h-2.4M180.7 232.22h2.4M289.5 232.22h-2.4M180.7 228.34h4.8M289.5 228.34h-4.8M180.7 224.45h2.4M289.5 224.45h-2.4M180.7 220.57h2.4M289.5 220.57h-2.4M180.7 216.69h2.4M289.5 216.69h-2.4M180.7 212.81h4.8M289.5 212.81h-4.8M180.7 208.92h2.4M289.5 208.92h-2.4M180.7 205.04h2.4M289.5 205.04h-2.4M180.7 201.16h2.4M289.5 201.16h-2.4M180.7 197.28h4.8M289.5 197.28h-4.8M180.7 193.4h2.4M289.5 193.4h-2.4M180.7 189.51h2.4M289.5 189.51h-2.4M180.7 185.63h2.4M289.5 185.63h-2.4M180.7 181.75h4.8M289.5 181.75h-4.8M180.7 177.87h2.4M289.5 177.87h-2.4M180.7 173.99h2.4M289.5 173.99h-2.4M180.7 170.1h2.4M289.5 170.1h-2.4M180.7 166.22h4.8M289.5 166.22h-4.8M180.7 162.34h2.4M289.5 162.34h-2.4M180.7 158.46h2.4M289.5 158.46h-2.4M180.7 154.57h2.4M289.5 154.57h-2.4M180.7 150.69h4.8M289.5 150.69h-4.8M180.7 146.81h2.4M289.5 146.81h-2.4M180.7 142.93h2.4M289.5 142.93h-2.4M180.7 139.05h2.4M289.5 139.05h-2.4M180.7 135.16h4.8M289.5 135.16h-4.8M180.7 131.28h2.4M289.5 131.28h-2.4M180.7 127.4h2.4M289.5 127.4h-2.4" stroke="#333" stroke-width="0.9" fill="none"/>
<rect x="180.7" y="127.4" width="108.8" height="108.7" fill="none" stroke="#1a1a1a" stroke-width="1.1"/>
<text transform="matrix(0.96,0,0,1,180.7,248.8)" font-size="9.9" text-anchor="middle" class="tk">-1.5</text>
<text transform="matrix(0.96,0,0,1,198.83,248.8)" font-size="9.9" text-anchor="middle" class="tk">-1.0</text>
<text transform="matrix(0.96,0,0,1,216.97,248.8)" font-size="9.9" text-anchor="middle" class="tk">-0.5</text>
<text transform="matrix(0.96,0,0,1,235.1,248.8)" font-size="9.9" text-anchor="middle" class="tk">0.0</text>
<text transform="matrix(0.96,0,0,1,253.23,248.8)" font-size="9.9" text-anchor="middle" class="tk">0.5</text>
<text transform="matrix(0.96,0,0,1,271.37,248.8)" font-size="9.9" text-anchor="middle" class="tk">1.0</text>
<text transform="matrix(0.96,0,0,1,289.5,248.8)" font-size="9.9" text-anchor="middle" class="tk">1.5</text>
<text transform="matrix(0.96,0,0,1,176.9,231.64)" font-size="9.9" text-anchor="end" class="tk">-0.6</text>
<text transform="matrix(0.96,0,0,1,176.9,216.11)" font-size="9.9" text-anchor="end" class="tk">-0.4</text>
<text transform="matrix(0.96,0,0,1,176.9,200.58)" font-size="9.9" text-anchor="end" class="tk">-0.2</text>
<text transform="matrix(0.96,0,0,1,176.9,185.05)" font-size="9.9" text-anchor="end" class="tk">0.0</text>
<text transform="matrix(0.96,0,0,1,176.9,169.52)" font-size="9.9" text-anchor="end" class="tk">0.2</text>
<text transform="matrix(0.96,0,0,1,176.9,153.99)" font-size="9.9" text-anchor="end" class="tk">0.4</text>
<text transform="matrix(0.96,0,0,1,176.9,138.46)" font-size="9.9" text-anchor="end" class="tk">0.6</text>
<polyline points="180.7,146.34 184.33,146.24 187.95,146.15 191.58,146.07 195.21,145.99 198.83,145.91 202.46,145.85 206.09,145.79 209.71,145.74 213.34,145.69 216.97,145.65 220.59,145.62 224.22,145.6 227.85,145.58 231.47,145.57 235.1,145.57 238.73,145.57 242.35,145.58 245.98,145.6 249.61,145.62 253.23,145.65 256.86,145.69 260.49,145.74 264.11,145.79 267.74,145.85 271.37,145.91 274.99,145.99 278.62,146.07 282.25,146.15 285.87,146.24 289.5,146.34" fill="none" stroke="#0c0cff" stroke-width="1.3" stroke-linejoin="round" stroke-linecap="round"/>
<polyline points="180.7,216.53 184.33,216.77 187.95,217 191.58,217.2 195.21,217.4 198.83,217.57 202.46,217.73 206.09,217.87 209.71,217.99 213.34,218.1 216.97,218.19 220.59,218.26 224.22,218.32 227.85,218.36 231.47,218.39 235.1,218.4 238.73,218.39 242.35,218.36 245.98,218.32 249.61,218.26 253.23,218.19 256.86,218.1 260.49,217.99 264.11,217.87 267.74,217.73 271.37,217.57 274.99,217.4 278.62,217.2 282.25,217 285.87,216.77 289.5,216.53" fill="none" stroke="#ff1010" stroke-width="1.3" stroke-linejoin="round" stroke-linecap="round"/>
<circle cx="189.04" cy="146.13" r="1.95" fill="#0c0cff"/>
<circle cx="191.6" cy="146.06" r="1.95" fill="#0c0cff"/>
<circle cx="194.15" cy="146.01" r="1.95" fill="#0c0cff"/>
<circle cx="196.71" cy="145.96" r="1.95" fill="#0c0cff"/>
<circle cx="199.27" cy="145.91" r="1.95" fill="#0c0cff"/>
<circle cx="201.83" cy="145.86" r="1.95" fill="#0c0cff"/>
<circle cx="204.38" cy="145.82" r="1.95" fill="#0c0cff"/>
<circle cx="206.94" cy="145.78" r="1.95" fill="#0c0cff"/>
<circle cx="209.5" cy="145.74" r="1.95" fill="#0c0cff"/>
<circle cx="212.05" cy="145.71" r="1.95" fill="#0c0cff"/>
<circle cx="214.61" cy="145.68" r="1.95" fill="#0c0cff"/>
<circle cx="217.17" cy="145.65" r="1.95" fill="#0c0cff"/>
<circle cx="219.72" cy="145.63" r="1.95" fill="#0c0cff"/>
<circle cx="222.28" cy="145.61" r="1.95" fill="#0c0cff"/>
<circle cx="224.84" cy="145.6" r="1.95" fill="#0c0cff"/>
<circle cx="227.39" cy="145.58" r="1.95" fill="#0c0cff"/>
<circle cx="229.95" cy="145.58" r="1.95" fill="#0c0cff"/>
<circle cx="232.51" cy="145.57" r="1.95" fill="#0c0cff"/>
<circle cx="235.06" cy="145.57" r="1.95" fill="#0c0cff"/>
<circle cx="237.62" cy="145.57" r="1.95" fill="#0c0cff"/>
<circle cx="240.18" cy="145.58" r="1.95" fill="#0c0cff"/>
<circle cx="242.73" cy="145.58" r="1.95" fill="#0c0cff"/>
<circle cx="245.29" cy="145.6" r="1.95" fill="#0c0cff"/>
<circle cx="247.85" cy="145.61" r="1.95" fill="#0c0cff"/>
<circle cx="250.4" cy="145.63" r="1.95" fill="#0c0cff"/>
<circle cx="252.96" cy="145.65" r="1.95" fill="#0c0cff"/>
<circle cx="255.52" cy="145.68" r="1.95" fill="#0c0cff"/>
<circle cx="258.07" cy="145.71" r="1.95" fill="#0c0cff"/>
<circle cx="260.63" cy="145.74" r="1.95" fill="#0c0cff"/>
<circle cx="263.19" cy="145.78" r="1.95" fill="#0c0cff"/>
<circle cx="265.75" cy="145.81" r="1.95" fill="#0c0cff"/>
<circle cx="268.3" cy="145.86" r="1.95" fill="#0c0cff"/>
<circle cx="270.86" cy="145.9" r="1.95" fill="#0c0cff"/>
<circle cx="273.42" cy="145.95" r="1.95" fill="#0c0cff"/>
<circle cx="275.97" cy="146.01" r="1.95" fill="#0c0cff"/>
<circle cx="278.53" cy="146.06" r="1.95" fill="#0c0cff"/>
<circle cx="281.09" cy="146.12" r="1.95" fill="#0c0cff"/>
<circle cx="189.04" cy="217.06" r="1.95" fill="#ff1010"/>
<circle cx="191.6" cy="217.21" r="1.95" fill="#ff1010"/>
<circle cx="194.15" cy="217.34" r="1.95" fill="#ff1010"/>
<circle cx="196.71" cy="217.47" r="1.95" fill="#ff1010"/>
<circle cx="199.27" cy="217.59" r="1.95" fill="#ff1010"/>
<circle cx="201.83" cy="217.7" r="1.95" fill="#ff1010"/>
<circle cx="204.38" cy="217.8" r="1.95" fill="#ff1010"/>
<circle cx="206.94" cy="217.9" r="1.95" fill="#ff1010"/>
<circle cx="209.5" cy="217.98" r="1.95" fill="#ff1010"/>
<circle cx="212.05" cy="218.06" r="1.95" fill="#ff1010"/>
<circle cx="214.61" cy="218.13" r="1.95" fill="#ff1010"/>
<circle cx="217.17" cy="218.19" r="1.95" fill="#ff1010"/>
<circle cx="219.72" cy="218.25" r="1.95" fill="#ff1010"/>
<circle cx="222.28" cy="218.29" r="1.95" fill="#ff1010"/>
<circle cx="224.84" cy="218.33" r="1.95" fill="#ff1010"/>
<circle cx="227.39" cy="218.36" r="1.95" fill="#ff1010"/>
<circle cx="229.95" cy="218.38" r="1.95" fill="#ff1010"/>
<circle cx="232.51" cy="218.39" r="1.95" fill="#ff1010"/>
<circle cx="235.06" cy="218.4" r="1.95" fill="#ff1010"/>
<circle cx="237.62" cy="218.39" r="1.95" fill="#ff1010"/>
<circle cx="240.18" cy="218.38" r="1.95" fill="#ff1010"/>
<circle cx="242.73" cy="218.36" r="1.95" fill="#ff1010"/>
<circle cx="245.29" cy="218.33" r="1.95" fill="#ff1010"/>
<circle cx="247.85" cy="218.3" r="1.95" fill="#ff1010"/>
<circle cx="250.4" cy="218.25" r="1.95" fill="#ff1010"/>
<circle cx="252.96" cy="218.2" r="1.95" fill="#ff1010"/>
<circle cx="255.52" cy="218.13" r="1.95" fill="#ff1010"/>
<circle cx="258.07" cy="218.07" r="1.95" fill="#ff1010"/>
<circle cx="260.63" cy="217.99" r="1.95" fill="#ff1010"/>
<circle cx="263.19" cy="217.9" r="1.95" fill="#ff1010"/>
<circle cx="265.75" cy="217.81" r="1.95" fill="#ff1010"/>
<circle cx="268.3" cy="217.7" r="1.95" fill="#ff1010"/>
<circle cx="270.86" cy="217.59" r="1.95" fill="#ff1010"/>
<circle cx="273.42" cy="217.47" r="1.95" fill="#ff1010"/>
<circle cx="275.97" cy="217.35" r="1.95" fill="#ff1010"/>
<circle cx="278.53" cy="217.21" r="1.95" fill="#ff1010"/>
<circle cx="281.09" cy="217.07" r="1.95" fill="#ff1010"/>
<line x1="386.05" y1="127.4" x2="386.05" y2="236.1" stroke="#5a5a5a" stroke-width="1.1"/>
<line x1="331.7" y1="181.75" x2="440.4" y2="181.75" stroke="#5a5a5a" stroke-width="1.1"/>
<path d="M331.7 236.1v-4.5M331.7 127.4v4.5M335.32 236.1v-2.3M335.32 127.4v2.3M338.95 236.1v-2.3M338.95 127.4v2.3M342.57 236.1v-2.3M342.57 127.4v2.3M346.19 236.1v-2.3M346.19 127.4v2.3M349.82 236.1v-4.5M349.82 127.4v4.5M353.44 236.1v-2.3M353.44 127.4v2.3M357.06 236.1v-2.3M357.06 127.4v2.3M360.69 236.1v-2.3M360.69 127.4v2.3M364.31 236.1v-2.3M364.31 127.4v2.3M367.93 236.1v-4.5M367.93 127.4v4.5M371.56 236.1v-2.3M371.56 127.4v2.3M375.18 236.1v-2.3M375.18 127.4v2.3M378.8 236.1v-2.3M378.8 127.4v2.3M382.43 236.1v-2.3M382.43 127.4v2.3M386.05 236.1v-4.5M386.05 127.4v4.5M389.67 236.1v-2.3M389.67 127.4v2.3M393.3 236.1v-2.3M393.3 127.4v2.3M396.92 236.1v-2.3M396.92 127.4v2.3M400.54 236.1v-2.3M400.54 127.4v2.3M404.17 236.1v-4.5M404.17 127.4v4.5M407.79 236.1v-2.3M407.79 127.4v2.3M411.41 236.1v-2.3M411.41 127.4v2.3M415.04 236.1v-2.3M415.04 127.4v2.3M418.66 236.1v-2.3M418.66 127.4v2.3M422.28 236.1v-4.5M422.28 127.4v4.5M425.91 236.1v-2.3M425.91 127.4v2.3M429.53 236.1v-2.3M429.53 127.4v2.3M433.15 236.1v-2.3M433.15 127.4v2.3M436.78 236.1v-2.3M436.78 127.4v2.3M440.4 236.1v-4.5M440.4 127.4v4.5M331.7 236.1h2.4M440.4 236.1h-2.4M331.7 232.22h2.4M440.4 232.22h-2.4M331.7 228.34h4.8M440.4 228.34h-4.8M331.7 224.45h2.4M440.4 224.45h-2.4M331.7 220.57h2.4M440.4 220.57h-2.4M331.7 216.69h2.4M440.4 216.69h-2.4M331.7 212.81h4.8M440.4 212.81h-4.8M331.7 208.92h2.4M440.4 208.92h-2.4M331.7 205.04h2.4M440.4 205.04h-2.4M331.7 201.16h2.4M440.4 201.16h-2.4M331.7 197.28h4.8M440.4 197.28h-4.8M331.7 193.4h2.4M440.4 193.4h-2.4M331.7 189.51h2.4M440.4 189.51h-2.4M331.7 185.63h2.4M440.4 185.63h-2.4M331.7 181.75h4.8M440.4 181.75h-4.8M331.7 177.87h2.4M440.4 177.87h-2.4M331.7 173.99h2.4M440.4 173.99h-2.4M331.7 170.1h2.4M440.4 170.1h-2.4M331.7 166.22h4.8M440.4 166.22h-4.8M331.7 162.34h2.4M440.4 162.34h-2.4M331.7 158.46h2.4M440.4 158.46h-2.4M331.7 154.57h2.4M440.4 154.57h-2.4M331.7 150.69h4.8M440.4 150.69h-4.8M331.7 146.81h2.4M440.4 146.81h-2.4M331.7 142.93h2.4M440.4 142.93h-2.4M331.7 139.05h2.4M440.4 139.05h-2.4M331.7 135.16h4.8M440.4 135.16h-4.8M331.7 131.28h2.4M440.4 131.28h-2.4M331.7 127.4h2.4M440.4 127.4h-2.4" stroke="#333" stroke-width="0.9" fill="none"/>
<rect x="331.7" y="127.4" width="108.7" height="108.7" fill="none" stroke="#1a1a1a" stroke-width="1.1"/>
<text transform="matrix(0.96,0,0,1,331.7,248.8)" font-size="9.9" text-anchor="middle" class="tk">-1.5</text>
<text transform="matrix(0.96,0,0,1,349.82,248.8)" font-size="9.9" text-anchor="middle" class="tk">-1.0</text>
<text transform="matrix(0.96,0,0,1,367.93,248.8)" font-size="9.9" text-anchor="middle" class="tk">-0.5</text>
<text transform="matrix(0.96,0,0,1,386.05,248.8)" font-size="9.9" text-anchor="middle" class="tk">0.0</text>
<text transform="matrix(0.96,0,0,1,404.17,248.8)" font-size="9.9" text-anchor="middle" class="tk">0.5</text>
<text transform="matrix(0.96,0,0,1,422.28,248.8)" font-size="9.9" text-anchor="middle" class="tk">1.0</text>
<text transform="matrix(0.96,0,0,1,440.4,248.8)" font-size="9.9" text-anchor="middle" class="tk">1.5</text>
<text transform="matrix(0.96,0,0,1,328.3,231.64)" font-size="9.9" text-anchor="end" class="tk">-0.6</text>
<text transform="matrix(0.96,0,0,1,328.3,216.11)" font-size="9.9" text-anchor="end" class="tk">-0.4</text>
<text transform="matrix(0.96,0,0,1,328.3,200.58)" font-size="9.9" text-anchor="end" class="tk">-0.2</text>
<text transform="matrix(0.96,0,0,1,328.3,185.05)" font-size="9.9" text-anchor="end" class="tk">0.0</text>
<text transform="matrix(0.96,0,0,1,328.3,169.52)" font-size="9.9" text-anchor="end" class="tk">0.2</text>
<text transform="matrix(0.96,0,0,1,328.3,153.99)" font-size="9.9" text-anchor="end" class="tk">0.4</text>
<text transform="matrix(0.96,0,0,1,328.3,138.46)" font-size="9.9" text-anchor="end" class="tk">0.6</text>
<polyline points="29.8,188 30.3,188 30.8,188 31.3,188 31.8,188 32.3,188 32.8,188 33.3,188 33.8,188 34.3,188 34.8,188 35.3,188 35.8,188 36.3,188.01 36.8,188.02 37.3,188.03 37.8,188.04 38.3,188.05 38.8,188.07 39.3,188.08 39.8,188.09 40.3,188.11 40.8,188.12 41.3,188.14 41.8,188.16 42.3,188.18 42.8,188.2 43.3,188.22 43.8,188.25 44.3,188.27 44.8,188.29 45.3,188.31 45.8,188.33 46.3,188.35 46.8,188.37 47.3,188.39 47.8,188.41 48.3,188.43 48.8,188.46 49.3,188.49 49.8,188.52 50.3,188.56 50.8,188.61 51.3,188.71 51.8,188.86 52.3,189.05 52.8,189.27 53.3,189.5 53.8,189.76 54.3,190.06 54.8,190.42 55.3,190.8 55.8,191.22 56.3,191.64 56.8,192.09 57.3,192.58 57.8,193.12 58.3,193.73 58.8,194.44 59.3,195.29 59.8,196.31 60.3,197.5 60.8,199.1 61.3,201.03 61.8,202.96 62.3,204.96 62.8,207.05 63.3,209.27 63.8,211.4 64.3,213.3 64.8,215.09 65.3,217.08 65.8,219.05 66.3,218.83 66.8,216.84 67.3,214.8 67.8,212.3 68.3,208.11 68.8,203.1 69.3,198.44 69.8,195.03 70.3,192.75 70.8,191.31 71.3,190.2 71.8,189.19 72.3,188.19 72.8,187.26 73.3,186.47 73.8,185.89 74.3,185.49 74.8,185.15 75.3,184.86 75.8,184.6 76.3,184.37 76.8,184.16 77.3,183.98 77.8,183.81 78.3,183.66 78.8,183.52 79.3,183.39 79.8,183.27 80.3,183.16 80.8,183.06 81.3,182.96 81.8,182.86 82.3,182.77 82.8,182.67 83.3,182.57 83.8,182.46 84.3,182.35 84.8,182.22 85.3,182.1 85.8,181.97 86.3,181.83 86.8,181.7 87.3,181.56 87.8,181.42 88.3,181.27 88.8,181.12 89.3,180.97 89.8,180.82 90.3,180.68 90.8,180.54 91.3,180.4 91.8,180.24 92.3,180.05 92.8,179.84 93.3,179.6 93.8,179.26 94.3,178.81 94.8,178.3 95.3,177.75 95.8,177.11 96.3,176.29 96.8,175.12 97.3,173.42 97.8,171.12 98.3,167.85 98.8,163.58 99.3,157.45 99.8,152.1 100.3,148.03 100.8,145.22 101.3,143.26 101.8,142.31 102.3,141.9 102.8,142.73 103.3,144.25 103.8,146.43 104.3,149.08 104.8,151.99 105.3,154.29 105.8,156.37 106.3,158.68 106.8,160.8 107.3,162.24 107.8,163.42 108.3,164.56 108.8,165.85 109.3,167.22 109.8,168.46 110.3,169.35 110.8,170 111.3,170.56 111.8,171.03 112.3,171.44 112.8,171.82 113.3,172.17 113.8,172.48 114.3,172.75 114.8,173.01 115.3,173.24 115.8,173.46 116.3,173.66 116.8,173.86 117.3,174.04 117.8,174.19 118.3,174.33 118.8,174.44 119.3,174.55 119.8,174.64 120.3,174.73 120.8,174.82 121.3,174.89 121.8,174.96 122.3,175.03 122.8,175.09 123.3,175.14 123.8,175.18 124.3,175.22 124.8,175.26 125.3,175.3 125.8,175.33 126.3,175.36 126.8,175.39 127.3,175.42 127.8,175.44 128.3,175.46 128.8,175.48 129.3,175.49 129.8,175.5 130.3,175.51 130.8,175.52 131.3,175.53 131.8,175.54 132.3,175.55 132.8,175.55 133.3,175.56 133.8,175.57 134.3,175.57 134.8,175.58 135.3,175.58 135.8,175.59 136.3,175.59 136.8,175.6 137.3,175.6 137.8,175.6 138.3,175.6" fill="none" stroke="#0c0cff" stroke-width="1.3" stroke-linejoin="round" stroke-linecap="round"/>
<circle cx="30.6" cy="188" r="2.3" fill="#0c0cff"/>
<circle cx="31.6" cy="188" r="2.3" fill="#0c0cff"/>
<circle cx="32.6" cy="188" r="2.3" fill="#0c0cff"/>
<circle cx="33.6" cy="188" r="2.3" fill="#0c0cff"/>
<circle cx="34.6" cy="188" r="2.3" fill="#0c0cff"/>
<circle cx="35.6" cy="188" r="2.3" fill="#0c0cff"/>
<circle cx="36.6" cy="188.01" r="2.3" fill="#0c0cff"/>
<circle cx="37.6" cy="188.04" r="2.3" fill="#0c0cff"/>
<circle cx="38.6" cy="188.06" r="2.3" fill="#0c0cff"/>
<circle cx="39.6" cy="188.09" r="2.3" fill="#0c0cff"/>
<circle cx="40.6" cy="188.12" r="2.3" fill="#0c0cff"/>
<circle cx="41.6" cy="188.15" r="2.3" fill="#0c0cff"/>
<circle cx="42.6" cy="188.19" r="2.3" fill="#0c0cff"/>
<circle cx="43.6" cy="188.24" r="2.3" fill="#0c0cff"/>
<circle cx="44.6" cy="188.28" r="2.3" fill="#0c0cff"/>
<circle cx="45.6" cy="188.33" r="2.3" fill="#0c0cff"/>
<circle cx="46.6" cy="188.36" r="2.3" fill="#0c0cff"/>
<circle cx="47.6" cy="188.4" r="2.3" fill="#0c0cff"/>
<circle cx="48.6" cy="188.45" r="2.3" fill="#0c0cff"/>
<circle cx="49.6" cy="188.51" r="2.3" fill="#0c0cff"/>
<circle cx="50.6" cy="188.59" r="2.3" fill="#0c0cff"/>
<circle cx="51.6" cy="188.79" r="2.3" fill="#0c0cff"/>
<circle cx="52.6" cy="189.18" r="2.3" fill="#0c0cff"/>
<circle cx="53.6" cy="189.65" r="2.3" fill="#0c0cff"/>
<circle cx="54.6" cy="190.27" r="2.3" fill="#0c0cff"/>
<circle cx="55.6" cy="191.05" r="2.3" fill="#0c0cff"/>
<circle cx="56.6" cy="191.91" r="2.3" fill="#0c0cff"/>
<circle cx="57.6" cy="192.89" r="2.3" fill="#0c0cff"/>
<circle cx="58.6" cy="194.14" r="2.3" fill="#0c0cff"/>
<circle cx="59.6" cy="195.88" r="2.3" fill="#0c0cff"/>
<circle cx="60.6" cy="198.39" r="2.3" fill="#0c0cff"/>
<circle cx="61.6" cy="202.18" r="2.3" fill="#0c0cff"/>
<circle cx="62.6" cy="206.2" r="2.3" fill="#0c0cff"/>
<circle cx="63.6" cy="210.58" r="2.3" fill="#0c0cff"/>
<circle cx="64.6" cy="214.38" r="2.3" fill="#0c0cff"/>
<circle cx="65.6" cy="218.41" r="2.3" fill="#0c0cff"/>
<circle cx="66.6" cy="217.72" r="2.3" fill="#0c0cff"/>
<circle cx="67.6" cy="213.42" r="2.3" fill="#0c0cff"/>
<circle cx="68.6" cy="205.22" r="2.3" fill="#0c0cff"/>
<circle cx="69.6" cy="196.29" r="2.3" fill="#0c0cff"/>
<circle cx="70.6" cy="191.83" r="2.3" fill="#0c0cff"/>
<circle cx="71.6" cy="189.6" r="2.3" fill="#0c0cff"/>
<circle cx="72.6" cy="187.62" r="2.3" fill="#0c0cff"/>
<circle cx="73.6" cy="186.09" r="2.3" fill="#0c0cff"/>
<circle cx="74.6" cy="185.28" r="2.3" fill="#0c0cff"/>
<circle cx="75.6" cy="184.7" r="2.3" fill="#0c0cff"/>
<circle cx="76.6" cy="184.24" r="2.3" fill="#0c0cff"/>
<circle cx="77.6" cy="183.88" r="2.3" fill="#0c0cff"/>
<circle cx="78.6" cy="183.57" r="2.3" fill="#0c0cff"/>
<circle cx="79.6" cy="183.31" r="2.3" fill="#0c0cff"/>
<circle cx="80.6" cy="183.1" r="2.3" fill="#0c0cff"/>
<circle cx="81.6" cy="182.9" r="2.3" fill="#0c0cff"/>
<circle cx="82.6" cy="182.71" r="2.3" fill="#0c0cff"/>
<circle cx="83.6" cy="182.51" r="2.3" fill="#0c0cff"/>
<circle cx="84.6" cy="182.28" r="2.3" fill="#0c0cff"/>
<circle cx="85.6" cy="182.02" r="2.3" fill="#0c0cff"/>
<circle cx="86.6" cy="181.75" r="2.3" fill="#0c0cff"/>
<circle cx="87.6" cy="181.47" r="2.3" fill="#0c0cff"/>
<circle cx="88.6" cy="181.18" r="2.3" fill="#0c0cff"/>
<circle cx="89.6" cy="180.88" r="2.3" fill="#0c0cff"/>
<circle cx="90.6" cy="180.6" r="2.3" fill="#0c0cff"/>
<circle cx="91.6" cy="180.3" r="2.3" fill="#0c0cff"/>
<circle cx="92.6" cy="179.93" r="2.3" fill="#0c0cff"/>
<circle cx="93.6" cy="179.41" r="2.3" fill="#0c0cff"/>
<circle cx="94.6" cy="178.51" r="2.3" fill="#0c0cff"/>
<circle cx="95.6" cy="177.38" r="2.3" fill="#0c0cff"/>
<circle cx="96.6" cy="175.66" r="2.3" fill="#0c0cff"/>
<circle cx="97.6" cy="172.15" r="2.3" fill="#0c0cff"/>
<circle cx="98.6" cy="165.5" r="2.3" fill="#0c0cff"/>
<circle cx="99.6" cy="153.97" r="2.3" fill="#0c0cff"/>
<circle cx="100.6" cy="146.2" r="2.3" fill="#0c0cff"/>
<circle cx="101.6" cy="142.63" r="2.3" fill="#0c0cff"/>
<circle cx="102.6" cy="142.24" r="2.3" fill="#0c0cff"/>
<circle cx="103.6" cy="145.5" r="2.3" fill="#0c0cff"/>
<circle cx="104.6" cy="150.87" r="2.3" fill="#0c0cff"/>
<circle cx="105.6" cy="155.53" r="2.3" fill="#0c0cff"/>
<circle cx="106.6" cy="160.05" r="2.3" fill="#0c0cff"/>
<circle cx="107.6" cy="162.96" r="2.3" fill="#0c0cff"/>
<circle cx="108.6" cy="165.31" r="2.3" fill="#0c0cff"/>
<circle cx="109.6" cy="167.99" r="2.3" fill="#0c0cff"/>
<circle cx="110.6" cy="169.75" r="2.3" fill="#0c0cff"/>
<circle cx="111.6" cy="170.85" r="2.3" fill="#0c0cff"/>
<circle cx="112.6" cy="171.68" r="2.3" fill="#0c0cff"/>
<circle cx="113.6" cy="172.36" r="2.3" fill="#0c0cff"/>
<circle cx="114.6" cy="172.91" r="2.3" fill="#0c0cff"/>
<circle cx="115.6" cy="173.37" r="2.3" fill="#0c0cff"/>
<circle cx="116.6" cy="173.78" r="2.3" fill="#0c0cff"/>
<circle cx="117.6" cy="174.13" r="2.3" fill="#0c0cff"/>
<circle cx="118.6" cy="174.4" r="2.3" fill="#0c0cff"/>
<circle cx="119.6" cy="174.6" r="2.3" fill="#0c0cff"/>
<circle cx="120.6" cy="174.78" r="2.3" fill="#0c0cff"/>
<circle cx="121.6" cy="174.94" r="2.3" fill="#0c0cff"/>
<circle cx="122.6" cy="175.06" r="2.3" fill="#0c0cff"/>
<circle cx="123.6" cy="175.17" r="2.3" fill="#0c0cff"/>
<circle cx="124.6" cy="175.25" r="2.3" fill="#0c0cff"/>
<circle cx="125.6" cy="175.32" r="2.3" fill="#0c0cff"/>
<circle cx="126.6" cy="175.38" r="2.3" fill="#0c0cff"/>
<circle cx="127.6" cy="175.43" r="2.3" fill="#0c0cff"/>
<circle cx="128.6" cy="175.47" r="2.3" fill="#0c0cff"/>
<circle cx="129.6" cy="175.5" r="2.3" fill="#0c0cff"/>
<circle cx="130.6" cy="175.52" r="2.3" fill="#0c0cff"/>
<circle cx="131.6" cy="175.53" r="2.3" fill="#0c0cff"/>
<circle cx="132.6" cy="175.55" r="2.3" fill="#0c0cff"/>
<circle cx="133.6" cy="175.57" r="2.3" fill="#0c0cff"/>
<circle cx="134.6" cy="175.58" r="2.3" fill="#0c0cff"/>
<circle cx="135.6" cy="175.59" r="2.3" fill="#0c0cff"/>
<circle cx="136.6" cy="175.59" r="2.3" fill="#0c0cff"/>
<circle cx="137.6" cy="175.6" r="2.3" fill="#0c0cff"/>
<polyline points="110.5,169.62 111,170.24 111.5,170.75 112,171.2 112.5,171.6 113,171.96 113.5,172.29 114,172.59 114.5,172.86 115,173.1 115.5,173.33 116,173.54 116.5,173.74 117,173.93 117.5,174.1 118,174.25 118.5,174.38 119,174.48 119.5,174.58 120,174.68 120.5,174.77 121,174.85 121.5,174.92 122,174.99 122.5,175.05 123,175.11 123.5,175.16 124,175.2 124.5,175.24 125,175.27 125.5,175.31 126,175.34 126.5,175.37 127,175.4 127.5,175.42 128,175.45 128.5,175.47 129,175.48 129.5,175.5 130,175.51 130.5,175.52 131,175.52 131.5,175.53 132,175.54 132.5,175.55 133,175.56 133.5,175.56 134,175.57 134.5,175.58 135,175.58 135.5,175.59 136,175.59 136.5,175.59 137,175.6 137.5,175.6 138,175.6 138.5,175.6" fill="none" stroke="#ff1010" stroke-width="1.4" stroke-linejoin="round" stroke-linecap="round"/>
<polyline points="29.6,188 30.1,188 30.6,188 31.1,188 31.6,188 32.1,188 32.6,188 33.1,188 33.6,188 34.1,188 34.6,188 35.1,188 35.6,188 36.1,188.01 36.6,188.01 37.1,188.02 37.6,188.04 38.1,188.05 38.6,188.06 39.1,188.08 39.6,188.09 40.1,188.1 40.6,188.12 41.1,188.13 41.6,188.15 42.1,188.17 42.6,188.19 43.1,188.21 43.6,188.24 44.1,188.26 44.6,188.28 45.1,188.3 45.6,188.33 46.1,188.34 46.6,188.36 47.1,188.38 47.6,188.4 48.1,188.42 48.6,188.45 49.1,188.47 49.6,188.51 50.1,188.55 50.6,188.59 51.1,188.66 51.6,188.79 52.1,188.97 52.6,189.18 53.1,189.41 53.6,189.65 54.1,189.93 54.6,190.27 55.1,190.65 55.6,191.05 56.1,191.47 56.6,191.91 57.1,192.38 57.6,192.89 58.1,193.48" fill="none" stroke="#ff1010" stroke-width="1.4" stroke-linejoin="round" stroke-linecap="round"/>
<polyline points="331.8,179.4 332.3,179.39 332.8,179.38 333.3,179.37 333.8,179.35 334.3,179.33 334.8,179.3 335.3,179.27 335.8,179.25 336.3,179.21 336.8,179.18 337.3,179.15 337.8,179.11 338.3,179.08 338.8,179.03 339.3,178.98 339.8,178.92 340.3,178.85 340.8,178.78 341.3,178.7 341.8,178.62 342.3,178.54 342.8,178.45 343.3,178.36 343.8,178.28 344.3,178.19 344.8,178.1 345.3,178.02 345.8,177.94 346.3,177.87 346.8,177.8 347.3,177.73 347.8,177.68 348.3,177.63 348.8,177.58 349.3,177.54 349.8,177.5 350.3,177.46 350.8,177.43 351.3,177.39 351.8,177.36 352.3,177.32 352.8,177.28 353.3,177.24 353.8,177.2 354.3,177.16 354.8,177.1 355.3,177.05 355.8,176.98 356.3,176.91 356.8,176.82 357.3,176.69 357.8,176.53 358.3,176.34 358.8,176.13 359.3,175.92 359.8,175.72 360.3,175.53 360.8,175.37 361.3,175.24 361.8,175.15 362.3,175.06 362.8,174.97 363.3,174.89 363.8,174.81 364.3,174.73 364.8,174.67 365.3,174.6 365.8,174.55 366.3,174.5 366.8,174.46 367.3,174.43 367.8,174.41 368.3,174.4 368.8,174.39 369.3,174.38 369.8,174.37 370.3,174.37 370.8,174.36 371.3,174.36 371.8,174.36 372.3,174.35 372.8,174.35 373.3,174.35 373.8,174.35 374.3,174.34 374.8,174.34 375.3,174.34 375.8,174.33 376.3,174.33 376.8,174.32 377.3,174.32 377.8,174.31 378.3,174.3 378.8,174.29 379.3,174.27 379.8,174.24 380.3,174.2 380.8,174.16 381.3,174.12 381.8,174.08 382.3,174.03 382.8,174 383.3,173.96 383.8,173.93 384.3,173.91 384.8,173.9 385.3,173.9 385.8,173.91 386.3,173.93 386.8,173.95 387.3,173.98 387.8,174.01 388.3,174.04 388.8,174.07 389.3,174.11 389.8,174.14 390.3,174.17 390.8,174.2 391.3,174.22 391.8,174.24 392.3,174.27 392.8,174.3 393.3,174.32 393.8,174.34 394.3,174.36 394.8,174.38 395.3,174.39 395.8,174.4 396.3,174.39 396.8,174.33 397.3,174.22 397.8,174.07 398.3,173.9 398.8,173.71 399.3,173.51 399.8,173.32 400.3,173.14 400.8,172.98 401.3,172.85 401.8,172.73 402.3,172.62 402.8,172.51 403.3,172.4 403.8,172.3 404.3,172.2 404.8,172.1 405.3,172.01 405.8,171.91 406.3,171.82 406.8,171.73 407.3,171.65 407.8,171.56 408.3,171.48 408.8,171.39 409.3,171.31 409.8,171.22 410.3,171.14 410.8,171.06 411.3,170.99 411.8,170.91 412.3,170.84 412.8,170.78 413.3,170.71 413.8,170.65 414.3,170.6 414.8,170.55 415.3,170.5 415.8,170.46 416.3,170.42 416.8,170.38 417.3,170.34 417.8,170.31 418.3,170.27 418.8,170.24 419.3,170.2 419.8,170.16 420.3,170.12 420.8,170.08 421.3,170.04 421.8,169.99 422.3,169.94 422.8,169.89 423.3,169.83 423.8,169.78 424.3,169.72 424.8,169.66 425.3,169.6 425.8,169.53 426.3,169.47 426.8,169.4 427.3,169.34 427.8,169.27 428.3,169.2 428.8,169.13 429.3,169.05 429.8,168.96 430.3,168.85 430.8,168.74 431.3,168.65 431.8,168.57 432.3,168.51 432.8,168.5 433.3,168.51 433.8,168.52 434.3,168.53 434.8,168.55 435.3,168.57 435.8,168.59 436.3,168.61 436.8,168.63 437.3,168.65 437.8,168.67 438.3,168.7 438.8,168.72 439.3,168.75 439.8,168.77 440.3,168.8" fill="none" stroke="#0c0cff" stroke-width="1.3" stroke-linejoin="round" stroke-linecap="round"/>
<polyline points="331.8,195.6 332.3,195.6 332.8,195.59 333.3,195.58 333.8,195.56 334.3,195.54 334.8,195.51 335.3,195.49 335.8,195.45 336.3,195.42 336.8,195.39 337.3,195.35 337.8,195.31 338.3,195.27 338.8,195.22 339.3,195.16 339.8,195.08 340.3,194.99 340.8,194.89 341.3,194.79 341.8,194.68 342.3,194.56 342.8,194.44 343.3,194.32 343.8,194.2 344.3,194.08 344.8,193.96 345.3,193.85 345.8,193.74 346.3,193.63 346.8,193.54 347.3,193.45 347.8,193.37 348.3,193.3 348.8,193.23 349.3,193.17 349.8,193.11 350.3,193.05 350.8,192.99 351.3,192.94 351.8,192.88 352.3,192.83 352.8,192.77 353.3,192.72 353.8,192.66 354.3,192.6 354.8,192.53 355.3,192.47 355.8,192.39 356.3,192.32 356.8,192.23 357.3,192.13 357.8,192.01 358.3,191.89 358.8,191.77 359.3,191.64 359.8,191.52 360.3,191.41 360.8,191.31 361.3,191.23 361.8,191.16 362.3,191.1 362.8,191.04 363.3,190.99 363.8,190.94 364.3,190.89 364.8,190.85 365.3,190.8 365.8,190.76 366.3,190.72 366.8,190.69 367.3,190.65 367.8,190.62 368.3,190.59 368.8,190.56 369.3,190.52 369.8,190.49 370.3,190.46 370.8,190.43 371.3,190.4 371.8,190.37 372.3,190.35 372.8,190.32 373.3,190.29 373.8,190.27 374.3,190.24 374.8,190.22 375.3,190.2 375.8,190.18 376.3,190.16 376.8,190.14 377.3,190.13 377.8,190.11 378.3,190.1 378.8,190.09 379.3,190.08 379.8,190.07 380.3,190.07 380.8,190.06 381.3,190.06 381.8,190.05 382.3,190.05 382.8,190.04 383.3,190.03 383.8,190.02 384.3,190.02 384.8,190 385.3,189.99 385.8,189.97 386.3,189.95 386.8,189.92 387.3,189.89 387.8,189.86 388.3,189.82 388.8,189.78 389.3,189.74 389.8,189.7 390.3,189.65 390.8,189.61 391.3,189.56 391.8,189.52 392.3,189.46 392.8,189.41 393.3,189.35 393.8,189.29 394.3,189.22 394.8,189.16 395.3,189.09 395.8,189.03 396.3,188.96 396.8,188.89 397.3,188.81 397.8,188.73 398.3,188.65 398.8,188.57 399.3,188.48 399.8,188.4 400.3,188.32 400.8,188.24 401.3,188.17 401.8,188.1 402.3,188.03 402.8,187.96 403.3,187.89 403.8,187.83 404.3,187.76 404.8,187.69 405.3,187.63 405.8,187.56 406.3,187.49 406.8,187.43 407.3,187.36 407.8,187.29 408.3,187.22 408.8,187.16 409.3,187.09 409.8,187.02 410.3,186.96 410.8,186.89 411.3,186.82 411.8,186.76 412.3,186.69 412.8,186.62 413.3,186.55 413.8,186.47 414.3,186.4 414.8,186.32 415.3,186.24 415.8,186.16 416.3,186.07 416.8,185.98 417.3,185.89 417.8,185.8 418.3,185.71 418.8,185.62 419.3,185.54 419.8,185.46 420.3,185.38 420.8,185.31 421.3,185.25 421.8,185.19 422.3,185.14 422.8,185.09 423.3,185.05 423.8,185.01 424.3,184.97 424.8,184.93 425.3,184.9 425.8,184.86 426.3,184.83 426.8,184.79 427.3,184.75 427.8,184.71 428.3,184.67 428.8,184.62 429.3,184.57 429.8,184.51 430.3,184.44 430.8,184.36 431.3,184.28 431.8,184.21 432.3,184.13 432.8,184.05 433.3,183.98 433.8,183.91 434.3,183.86 434.8,183.81 435.3,183.77 435.8,183.73 436.3,183.69 436.8,183.66 437.3,183.63 437.8,183.6 438.3,183.57 438.8,183.55 439.3,183.53 439.8,183.51 440.3,183.5" fill="none" stroke="#ff1010" stroke-width="1.3" stroke-linejoin="round" stroke-linecap="round"/>
<circle cx="339.5" cy="178.96" r="1.95" fill="#0c0cff"/>
<circle cx="342" cy="178.59" r="1.95" fill="#0c0cff"/>
<circle cx="344.5" cy="178.15" r="1.95" fill="#0c0cff"/>
<circle cx="347" cy="177.77" r="1.95" fill="#0c0cff"/>
<circle cx="349.5" cy="177.52" r="1.95" fill="#0c0cff"/>
<circle cx="352" cy="177.34" r="1.95" fill="#0c0cff"/>
<circle cx="354.5" cy="177.14" r="1.95" fill="#0c0cff"/>
<circle cx="357" cy="176.78" r="1.95" fill="#0c0cff"/>
<circle cx="359.5" cy="175.84" r="1.95" fill="#0c0cff"/>
<circle cx="362" cy="175.11" r="1.95" fill="#0c0cff"/>
<circle cx="364.5" cy="174.71" r="1.95" fill="#0c0cff"/>
<circle cx="367" cy="174.45" r="1.95" fill="#0c0cff"/>
<circle cx="369.5" cy="174.38" r="1.95" fill="#0c0cff"/>
<circle cx="372" cy="174.36" r="1.95" fill="#0c0cff"/>
<circle cx="374.5" cy="174.34" r="1.95" fill="#0c0cff"/>
<circle cx="377" cy="174.32" r="1.95" fill="#0c0cff"/>
<circle cx="379.5" cy="174.26" r="1.95" fill="#0c0cff"/>
<circle cx="382" cy="174.06" r="1.95" fill="#0c0cff"/>
<circle cx="384.5" cy="173.91" r="1.95" fill="#0c0cff"/>
<circle cx="387" cy="173.96" r="1.95" fill="#0c0cff"/>
<circle cx="389.5" cy="174.12" r="1.95" fill="#0c0cff"/>
<circle cx="392" cy="174.25" r="1.95" fill="#0c0cff"/>
<circle cx="394.5" cy="174.37" r="1.95" fill="#0c0cff"/>
<circle cx="397" cy="174.29" r="1.95" fill="#0c0cff"/>
<circle cx="399.5" cy="173.43" r="1.95" fill="#0c0cff"/>
<circle cx="402" cy="172.69" r="1.95" fill="#0c0cff"/>
<circle cx="404.5" cy="172.16" r="1.95" fill="#0c0cff"/>
<circle cx="407" cy="171.7" r="1.95" fill="#0c0cff"/>
<circle cx="409.5" cy="171.27" r="1.95" fill="#0c0cff"/>
<circle cx="412" cy="170.89" r="1.95" fill="#0c0cff"/>
<circle cx="414.5" cy="170.58" r="1.95" fill="#0c0cff"/>
<circle cx="417" cy="170.36" r="1.95" fill="#0c0cff"/>
<circle cx="419.5" cy="170.19" r="1.95" fill="#0c0cff"/>
<circle cx="422" cy="169.97" r="1.95" fill="#0c0cff"/>
<circle cx="424.5" cy="169.69" r="1.95" fill="#0c0cff"/>
<circle cx="427" cy="169.38" r="1.95" fill="#0c0cff"/>
<circle cx="429.5" cy="169.02" r="1.95" fill="#0c0cff"/>
<circle cx="432" cy="168.54" r="1.95" fill="#0c0cff"/>
<circle cx="339.5" cy="195.13" r="1.95" fill="#ff1010"/>
<circle cx="342" cy="194.63" r="1.95" fill="#ff1010"/>
<circle cx="344.5" cy="194.03" r="1.95" fill="#ff1010"/>
<circle cx="347" cy="193.5" r="1.95" fill="#ff1010"/>
<circle cx="349.5" cy="193.14" r="1.95" fill="#ff1010"/>
<circle cx="352" cy="192.86" r="1.95" fill="#ff1010"/>
<circle cx="354.5" cy="192.57" r="1.95" fill="#ff1010"/>
<circle cx="357" cy="192.19" r="1.95" fill="#ff1010"/>
<circle cx="359.5" cy="191.59" r="1.95" fill="#ff1010"/>
<circle cx="362" cy="191.14" r="1.95" fill="#ff1010"/>
<circle cx="364.5" cy="190.87" r="1.95" fill="#ff1010"/>
<circle cx="367" cy="190.67" r="1.95" fill="#ff1010"/>
<circle cx="369.5" cy="190.51" r="1.95" fill="#ff1010"/>
<circle cx="372" cy="190.36" r="1.95" fill="#ff1010"/>
<circle cx="374.5" cy="190.23" r="1.95" fill="#ff1010"/>
<circle cx="377" cy="190.14" r="1.95" fill="#ff1010"/>
<circle cx="379.5" cy="190.08" r="1.95" fill="#ff1010"/>
<circle cx="382" cy="190.05" r="1.95" fill="#ff1010"/>
<circle cx="384.5" cy="190.01" r="1.95" fill="#ff1010"/>
<circle cx="387" cy="189.91" r="1.95" fill="#ff1010"/>
<circle cx="389.5" cy="189.72" r="1.95" fill="#ff1010"/>
<circle cx="392" cy="189.49" r="1.95" fill="#ff1010"/>
<circle cx="394.5" cy="189.2" r="1.95" fill="#ff1010"/>
<circle cx="397" cy="188.86" r="1.95" fill="#ff1010"/>
<circle cx="399.5" cy="188.45" r="1.95" fill="#ff1010"/>
<circle cx="402" cy="188.07" r="1.95" fill="#ff1010"/>
<circle cx="404.5" cy="187.73" r="1.95" fill="#ff1010"/>
<circle cx="407" cy="187.4" r="1.95" fill="#ff1010"/>
<circle cx="409.5" cy="187.06" r="1.95" fill="#ff1010"/>
<circle cx="412" cy="186.73" r="1.95" fill="#ff1010"/>
<circle cx="414.5" cy="186.37" r="1.95" fill="#ff1010"/>
<circle cx="417" cy="185.94" r="1.95" fill="#ff1010"/>
<circle cx="419.5" cy="185.51" r="1.95" fill="#ff1010"/>
<circle cx="422" cy="185.17" r="1.95" fill="#ff1010"/>
<circle cx="424.5" cy="184.96" r="1.95" fill="#ff1010"/>
<circle cx="427" cy="184.78" r="1.95" fill="#ff1010"/>
<circle cx="429.5" cy="184.54" r="1.95" fill="#ff1010"/>
<circle cx="432" cy="184.17" r="1.95" fill="#ff1010"/>
<text transform="matrix(1.05,0,0,1,189.2,2.3)" font-size="9.3">(b)</text>
<text transform="matrix(1.05,0,0,1,340,2.3)" font-size="9.3">(c)</text>
<text transform="matrix(1.05,0,0,1,38.4,144.5)" font-size="9.3">(d)</text>
<text transform="matrix(1.05,0,0,1,189.4,139.8)" font-size="9.3">(e)</text>
<text transform="matrix(1.05,0,0,1,340.2,144.5)" font-size="9.3">(f)</text>
<text transform="matrix(1,0,0,1,188.7,16.5)" font-size="7.4" font-style="italic">H</text>
<text transform="matrix(1,0,0,1,194.1,18.6)" font-size="7.2" style="stroke-width:0.3px">ext</text>
<text transform="matrix(1,0,0,1,206.1,16.5)" font-size="6.800000000000001" font-style="italic">//</text>
<text transform="matrix(1,0,0,1,212.6,16.5)" font-size="7.4" font-style="italic">z</text>
<text transform="matrix(1,0,0,1,339,16.6)" font-size="7.4" font-style="italic">H</text>
<text transform="matrix(1,0,0,1,344.4,18.7)" font-size="7.2" style="stroke-width:0.3px">ext</text>
<text transform="matrix(1,0,0,1,356.4,16.6)" font-size="6.800000000000001" font-style="italic">//</text>
<text transform="matrix(1,0,0,1,362.9,16.6)" font-size="7.4" font-style="italic">x</text>
<text transform="matrix(1,0,0,1,40.4,156.4)" font-size="7.4" font-style="italic">H</text>
<text transform="matrix(1,0,0,1,45.8,158.5)" font-size="7.2" style="stroke-width:0.3px">ext</text>
<text transform="matrix(1,0,0,1,57.8,156.4)" font-size="6.800000000000001" font-style="italic">//</text>
<text transform="matrix(1,0,0,1,64.3,156.4)" font-size="7.4" font-style="italic">x</text>
<text transform="matrix(1,0,0,1,191.1,156.4)" font-size="7.4" font-style="italic">H</text>
<text transform="matrix(1,0,0,1,196.5,158.5)" font-size="7.2" style="stroke-width:0.3px">ext</text>
<text transform="matrix(1,0,0,1,208.5,156.4)" font-size="6.800000000000001" font-style="italic">//</text>
<text transform="matrix(1,0,0,1,215,156.4)" font-size="7.4" font-style="italic">x</text>
<text transform="matrix(1,0,0,1,341.8,156.4)" font-size="7.4" font-style="italic">H</text>
<text transform="matrix(1,0,0,1,347.2,158.5)" font-size="7.2" style="stroke-width:0.3px">ext</text>
<text transform="matrix(1,0,0,1,359.2,156.4)" font-size="6.800000000000001" font-style="italic">//</text>
<text transform="matrix(1,0,0,1,365.7,156.4)" font-size="7.4" font-style="italic">x</text>
<text transform="matrix(0.92,0,0,1,213.5,119)" font-size="11" font-style="italic">H</text>
<text transform="matrix(1.0,0,0,1,219.7,121)" font-size="8.6">ext</text>
<text transform="matrix(0.92,0,0,1,232.9,119)" font-size="11">(kOe)</text>
<text transform="matrix(0.92,0,0,1,365.5,119)" font-size="11" font-style="italic">H</text>
<text transform="matrix(1.0,0,0,1,371.7,121)" font-size="8.6">ext</text>
<text transform="matrix(0.92,0,0,1,384.9,119)" font-size="11">(kOe)</text>
<g transform="translate(154.4,50.7) rotate(-90)"><text transform="matrix(1,0,0,1,0,0)" font-size="8.8" font-style="italic">R</text><text transform="matrix(1,0,0,1,6.4,0.8)" font-size="6.6">xy</text><text transform="matrix(1,0,0,1,6.4,-5)" font-size="6.6">DC</text><text transform="matrix(1,0,0,1,15.8,0)" font-size="9.4">(Ω)</text></g>
<g transform="translate(307.4,52.7) rotate(-90)"><text transform="matrix(1,0,0,1,0,0)" font-size="8.8" font-style="italic">R</text><text transform="matrix(1,0,0,1,6.4,0.8)" font-size="6.6">xy</text><text transform="matrix(1,0,0,1,6.4,-5)" font-size="6.6">DC</text><text transform="matrix(1,0,0,1,15.8,0)" font-size="9.4">(Ω)</text></g>
<g transform="translate(11.6,193.7) rotate(-90)"><text transform="matrix(1,0,0,1,0,0)" font-size="8.8" font-style="italic">R</text><text transform="matrix(1,0,0,1,6.4,0.8)" font-size="6.6">xy</text><text transform="matrix(1,0,0,1,6.4,-5)" font-size="6.6">2ω</text><text transform="matrix(1,0,0,1,13.7,0)" font-size="9.4">(mΩ)</text></g>
<g transform="translate(154,195.2) rotate(-90)"><text transform="matrix(1,0,0,1,0,0)" font-size="8.8" font-style="italic">R</text><text transform="matrix(1,0,0,1,6.4,0.8)" font-size="6.6">xy</text><text transform="matrix(1,0,0,1,6.4,-5)" font-size="6.6">ω</text><text transform="matrix(1,0,0,1,15.1,0)" font-size="9.4">(mΩ)</text></g>
<g transform="translate(304,197) rotate(-90)"><text transform="matrix(1,0,0,1,0,0)" font-size="8.8" font-style="italic">R</text><text transform="matrix(1,0,0,1,6.4,0.8)" font-size="6.6">xy</text><text transform="matrix(1,0,0,1,6.4,-5)" font-size="6.6">2ω</text><text transform="matrix(1,0,0,1,13.7,0)" font-size="9.4">(mΩ)</text></g>
<rect x="70" y="200.5" width="51" height="14.5" fill="#fff"/>
<rect x="70" y="215" width="84" height="15.6" fill="#fff"/>
<rect x="338.5" y="214.6" width="51" height="9.6" fill="#fff"/>
<text transform="matrix(1,0,0,1,71.6,211.8)" font-size="10" font-style="italic">θ</text>
<text transform="matrix(1,0,0,1,77.9,206.8)" font-size="7.2">eff</text>
<text transform="matrix(1,0,0,1,77.9,213.4)" font-size="7.2">SH</text>
<text transform="matrix(0.95,0,0,1,88.2,211.8)" font-size="10">= 0.007</text>
<text transform="matrix(1,0,0,1,340.1,223.4)" font-size="10" font-style="italic">θ</text>
<text transform="matrix(1,0,0,1,346.4,218.4)" font-size="7.2">eff</text>
<text transform="matrix(1,0,0,1,346.4,225)" font-size="7.2">SH</text>
<text transform="matrix(0.95,0,0,1,356.7,223.4)" font-size="10">= 0.028</text>
<text transform="matrix(1,0,0,1,72,225.8)" font-size="9.6" font-style="italic">R</text>
<text transform="matrix(1,0,0,1,79.3,220.8)" font-size="6.6">out</text>
<text transform="matrix(0.98,0,0,1,79.3,227.6)" font-size="6.6">ANE+SSE</text>
<text transform="matrix(0.96,0,0,1,111.2,225.8)" font-size="10">= 0.25mΩ</text>
</g></svg>
</body></html>
